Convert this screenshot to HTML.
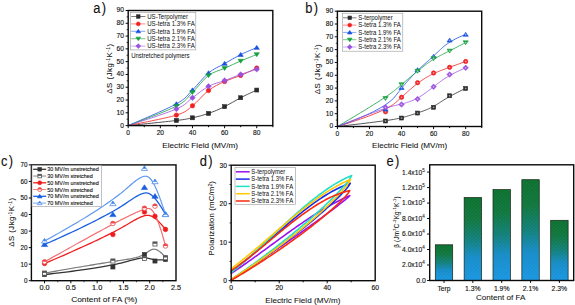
<!DOCTYPE html><html><head><meta charset="utf-8"><style>html,body{margin:0;padding:0;background:#fff;width:575px;height:305px;overflow:hidden}svg{display:block}text{font-family:"Liberation Sans", sans-serif}</style></head><body>
<svg width="575" height="305" viewBox="0 0 575 305">
<rect width="575" height="305" fill="#fff"/>
<text x="0" y="0" font-size="15" fill="#111" stroke="#111" stroke-width="0.12" transform="translate(93.3,12.8) scale(0.86,1)">a<tspan dx="1.6">)</tspan></text>
<line x1="125.6" y1="125.6" x2="128.2" y2="125.6" stroke="#0a0a0a" stroke-width="1.0"/>
<text x="124" y="127.5" font-size="7.6" text-anchor="end" fill="#111" stroke="#111" stroke-width="0.15" textLength="3.7" lengthAdjust="spacingAndGlyphs" >0</text>
<line x1="126.6" y1="119.21" x2="128.2" y2="119.21" stroke="#0a0a0a" stroke-width="0.8"/>
<line x1="125.6" y1="112.81" x2="128.2" y2="112.81" stroke="#0a0a0a" stroke-width="1.0"/>
<text x="124" y="114.71" font-size="7.6" text-anchor="end" fill="#111" stroke="#111" stroke-width="0.15" textLength="7.4" lengthAdjust="spacingAndGlyphs" >10</text>
<line x1="126.6" y1="106.42" x2="128.2" y2="106.42" stroke="#0a0a0a" stroke-width="0.8"/>
<line x1="125.6" y1="100.02" x2="128.2" y2="100.02" stroke="#0a0a0a" stroke-width="1.0"/>
<text x="124" y="101.92" font-size="7.6" text-anchor="end" fill="#111" stroke="#111" stroke-width="0.15" textLength="7.4" lengthAdjust="spacingAndGlyphs" >20</text>
<line x1="126.6" y1="93.63" x2="128.2" y2="93.63" stroke="#0a0a0a" stroke-width="0.8"/>
<line x1="125.6" y1="87.23" x2="128.2" y2="87.23" stroke="#0a0a0a" stroke-width="1.0"/>
<text x="124" y="89.13" font-size="7.6" text-anchor="end" fill="#111" stroke="#111" stroke-width="0.15" textLength="7.4" lengthAdjust="spacingAndGlyphs" >30</text>
<line x1="126.6" y1="80.84" x2="128.2" y2="80.84" stroke="#0a0a0a" stroke-width="0.8"/>
<line x1="125.6" y1="74.44" x2="128.2" y2="74.44" stroke="#0a0a0a" stroke-width="1.0"/>
<text x="124" y="76.34" font-size="7.6" text-anchor="end" fill="#111" stroke="#111" stroke-width="0.15" textLength="7.4" lengthAdjust="spacingAndGlyphs" >40</text>
<line x1="126.6" y1="68.05" x2="128.2" y2="68.05" stroke="#0a0a0a" stroke-width="0.8"/>
<line x1="125.6" y1="61.66" x2="128.2" y2="61.66" stroke="#0a0a0a" stroke-width="1.0"/>
<text x="124" y="63.56" font-size="7.6" text-anchor="end" fill="#111" stroke="#111" stroke-width="0.15" textLength="7.4" lengthAdjust="spacingAndGlyphs" >50</text>
<line x1="126.6" y1="55.26" x2="128.2" y2="55.26" stroke="#0a0a0a" stroke-width="0.8"/>
<line x1="125.6" y1="48.87" x2="128.2" y2="48.87" stroke="#0a0a0a" stroke-width="1.0"/>
<text x="124" y="50.77" font-size="7.6" text-anchor="end" fill="#111" stroke="#111" stroke-width="0.15" textLength="7.4" lengthAdjust="spacingAndGlyphs" >60</text>
<line x1="126.6" y1="42.47" x2="128.2" y2="42.47" stroke="#0a0a0a" stroke-width="0.8"/>
<line x1="125.6" y1="36.08" x2="128.2" y2="36.08" stroke="#0a0a0a" stroke-width="1.0"/>
<text x="124" y="37.98" font-size="7.6" text-anchor="end" fill="#111" stroke="#111" stroke-width="0.15" textLength="7.4" lengthAdjust="spacingAndGlyphs" >70</text>
<line x1="126.6" y1="29.68" x2="128.2" y2="29.68" stroke="#0a0a0a" stroke-width="0.8"/>
<line x1="125.6" y1="23.29" x2="128.2" y2="23.29" stroke="#0a0a0a" stroke-width="1.0"/>
<text x="124" y="25.19" font-size="7.6" text-anchor="end" fill="#111" stroke="#111" stroke-width="0.15" textLength="7.4" lengthAdjust="spacingAndGlyphs" >80</text>
<line x1="126.6" y1="16.89" x2="128.2" y2="16.89" stroke="#0a0a0a" stroke-width="0.8"/>
<line x1="125.6" y1="10.5" x2="128.2" y2="10.5" stroke="#0a0a0a" stroke-width="1.0"/>
<text x="124" y="12.4" font-size="7.6" text-anchor="end" fill="#111" stroke="#111" stroke-width="0.15" textLength="7.4" lengthAdjust="spacingAndGlyphs" >90</text>
<line x1="128.2" y1="125.6" x2="128.2" y2="128.2" stroke="#0a0a0a" stroke-width="1.0"/>
<text x="128.2" y="135.2" font-size="8" text-anchor="middle" fill="#111" stroke="#111" stroke-width="0.15" textLength="3.7" lengthAdjust="spacingAndGlyphs" >0</text>
<line x1="144.27" y1="125.6" x2="144.27" y2="127.2" stroke="#0a0a0a" stroke-width="1.0"/>
<line x1="160.33" y1="125.6" x2="160.33" y2="128.2" stroke="#0a0a0a" stroke-width="1.0"/>
<text x="160.33" y="135.2" font-size="8" text-anchor="middle" fill="#111" stroke="#111" stroke-width="0.15" textLength="7.4" lengthAdjust="spacingAndGlyphs" >20</text>
<line x1="176.4" y1="125.6" x2="176.4" y2="127.2" stroke="#0a0a0a" stroke-width="1.0"/>
<line x1="192.47" y1="125.6" x2="192.47" y2="128.2" stroke="#0a0a0a" stroke-width="1.0"/>
<text x="192.47" y="135.2" font-size="8" text-anchor="middle" fill="#111" stroke="#111" stroke-width="0.15" textLength="7.4" lengthAdjust="spacingAndGlyphs" >40</text>
<line x1="208.53" y1="125.6" x2="208.53" y2="127.2" stroke="#0a0a0a" stroke-width="1.0"/>
<line x1="224.6" y1="125.6" x2="224.6" y2="128.2" stroke="#0a0a0a" stroke-width="1.0"/>
<text x="224.6" y="135.2" font-size="8" text-anchor="middle" fill="#111" stroke="#111" stroke-width="0.15" textLength="7.4" lengthAdjust="spacingAndGlyphs" >60</text>
<line x1="240.67" y1="125.6" x2="240.67" y2="127.2" stroke="#0a0a0a" stroke-width="1.0"/>
<line x1="256.73" y1="125.6" x2="256.73" y2="128.2" stroke="#0a0a0a" stroke-width="1.0"/>
<text x="256.73" y="135.2" font-size="8" text-anchor="middle" fill="#111" stroke="#111" stroke-width="0.15" textLength="7.4" lengthAdjust="spacingAndGlyphs" >80</text>
<line x1="272.8" y1="125.6" x2="272.8" y2="127.2" stroke="#0a0a0a" stroke-width="1.0"/>
<path d="M128.2,125.6 C136.23,124.75 165.69,121.78 176.4,120.48 C187.11,119.18 187.11,118.97 192.47,117.8 C197.82,116.63 203.18,115.3 208.53,113.45 C213.89,111.6 219.24,109.29 224.6,106.67 C229.96,104.05 235.31,100.49 240.67,97.72 C246.02,94.95 254.06,91.33 256.73,90.05" fill="none" stroke="#2a2a2a" stroke-width="0.8"/>
<path d="M128.2,125.6 C136.23,123.85 165.69,118.42 176.4,115.11 C187.11,111.81 187.11,109.89 192.47,105.78 C197.82,101.66 203.18,94.48 208.53,90.43 C213.89,86.38 219.24,83.97 224.6,81.48 C229.96,78.98 235.31,77.71 240.67,75.47 C246.02,73.23 254.06,69.29 256.73,68.05" fill="none" stroke="#f02020" stroke-width="0.8"/>
<path d="M128.2,125.6 C136.23,121.98 165.69,109.78 176.4,103.86 C187.11,97.93 187.11,95.21 192.47,90.05 C197.82,84.89 203.18,77.32 208.53,72.91 C213.89,68.5 219.24,66.62 224.6,63.57 C229.96,60.53 235.31,57.29 240.67,54.62 C246.02,51.96 254.06,48.76 256.73,47.59" fill="none" stroke="#1a4fe0" stroke-width="0.8"/>
<path d="M128.2,125.6 C136.23,122.36 165.69,111.7 176.4,106.16 C187.11,100.62 187.11,97.46 192.47,92.35 C197.82,87.23 203.18,79.47 208.53,75.47 C213.89,71.46 219.24,70.71 224.6,68.31 C229.96,65.9 235.31,63.32 240.67,61.02 C246.02,58.71 254.06,55.58 256.73,54.49" fill="none" stroke="#15a040" stroke-width="0.8"/>
<path d="M128.2,125.6 C136.23,122.83 165.69,113.62 176.4,108.97 C187.11,104.33 187.11,101.49 192.47,97.72 C197.82,93.95 203.18,89.19 208.53,86.34 C213.89,83.48 219.24,82.57 224.6,80.58 C229.96,78.6 235.31,76.32 240.67,74.44 C246.02,72.57 254.06,70.18 256.73,69.33" fill="none" stroke="#9b50e0" stroke-width="0.8"/>
<rect x="174.42" y="118.5" width="3.96" height="3.96" fill="#2a2a2a" stroke="#2a2a2a" stroke-width="0.6"/>
<rect x="190.49" y="115.82" width="3.96" height="3.96" fill="#2a2a2a" stroke="#2a2a2a" stroke-width="0.6"/>
<rect x="206.55" y="111.47" width="3.96" height="3.96" fill="#2a2a2a" stroke="#2a2a2a" stroke-width="0.6"/>
<rect x="222.62" y="104.69" width="3.96" height="3.96" fill="#2a2a2a" stroke="#2a2a2a" stroke-width="0.6"/>
<rect x="238.69" y="95.74" width="3.96" height="3.96" fill="#2a2a2a" stroke="#2a2a2a" stroke-width="0.6"/>
<rect x="254.75" y="88.07" width="3.96" height="3.96" fill="#2a2a2a" stroke="#2a2a2a" stroke-width="0.6"/>
<circle cx="176.4" cy="115.11" r="2.2" fill="#f02020" stroke="#f02020" stroke-width="0.6"/>
<circle cx="192.47" cy="105.78" r="2.2" fill="#f02020" stroke="#f02020" stroke-width="0.6"/>
<circle cx="208.53" cy="90.43" r="2.2" fill="#f02020" stroke="#f02020" stroke-width="0.6"/>
<circle cx="224.6" cy="81.48" r="2.2" fill="#f02020" stroke="#f02020" stroke-width="0.6"/>
<circle cx="240.67" cy="75.47" r="2.2" fill="#f02020" stroke="#f02020" stroke-width="0.6"/>
<circle cx="256.73" cy="68.05" r="2.2" fill="#f02020" stroke="#f02020" stroke-width="0.6"/>
<path d="M176.4,101.66 L179.04,105.62 L173.76,105.62 Z" fill="#1a4fe0" stroke="#1a4fe0" stroke-width="0.6"/>
<path d="M192.47,87.85 L195.11,91.81 L189.83,91.81 Z" fill="#1a4fe0" stroke="#1a4fe0" stroke-width="0.6"/>
<path d="M208.53,70.71 L211.17,74.67 L205.89,74.67 Z" fill="#1a4fe0" stroke="#1a4fe0" stroke-width="0.6"/>
<path d="M224.6,61.37 L227.24,65.33 L221.96,65.33 Z" fill="#1a4fe0" stroke="#1a4fe0" stroke-width="0.6"/>
<path d="M240.67,52.42 L243.31,56.38 L238.03,56.38 Z" fill="#1a4fe0" stroke="#1a4fe0" stroke-width="0.6"/>
<path d="M256.73,45.39 L259.37,49.35 L254.09,49.35 Z" fill="#1a4fe0" stroke="#1a4fe0" stroke-width="0.6"/>
<path d="M176.4,108.36 L179.04,104.4 L173.76,104.4 Z" fill="#15a040" stroke="#15a040" stroke-width="0.6"/>
<path d="M192.47,94.55 L195.11,90.59 L189.83,90.59 Z" fill="#15a040" stroke="#15a040" stroke-width="0.6"/>
<path d="M208.53,77.67 L211.17,73.71 L205.89,73.71 Z" fill="#15a040" stroke="#15a040" stroke-width="0.6"/>
<path d="M224.6,70.51 L227.24,66.55 L221.96,66.55 Z" fill="#15a040" stroke="#15a040" stroke-width="0.6"/>
<path d="M240.67,63.22 L243.31,59.26 L238.03,59.26 Z" fill="#15a040" stroke="#15a040" stroke-width="0.6"/>
<path d="M256.73,56.69 L259.37,52.73 L254.09,52.73 Z" fill="#15a040" stroke="#15a040" stroke-width="0.6"/>
<path d="M176.4,106.25 L179.13,108.97 L176.4,111.7 L173.67,108.97 Z" fill="#9b50e0" stroke="#9b50e0" stroke-width="0.6"/>
<path d="M192.47,94.99 L195.19,97.72 L192.47,100.45 L189.74,97.72 Z" fill="#9b50e0" stroke="#9b50e0" stroke-width="0.6"/>
<path d="M208.53,83.61 L211.26,86.34 L208.53,89.07 L205.81,86.34 Z" fill="#9b50e0" stroke="#9b50e0" stroke-width="0.6"/>
<path d="M224.6,77.86 L227.33,80.58 L224.6,83.31 L221.87,80.58 Z" fill="#9b50e0" stroke="#9b50e0" stroke-width="0.6"/>
<path d="M240.67,71.72 L243.39,74.44 L240.67,77.17 L237.94,74.44 Z" fill="#9b50e0" stroke="#9b50e0" stroke-width="0.6"/>
<path d="M256.73,66.6 L259.46,69.33 L256.73,72.06 L254.01,69.33 Z" fill="#9b50e0" stroke="#9b50e0" stroke-width="0.6"/>
<rect x="128.2" y="10.5" width="144.6" height="115.1" fill="none" stroke="#0a0a0a" stroke-width="1.4"/>
<rect x="130.6" y="12.6" width="65.2" height="37.3" fill="#fff" stroke="#999" stroke-width="0.6"/>
<line x1="131.2" y1="16.5" x2="145.4" y2="16.5" stroke="#444" stroke-width="0.7"/>
<rect x="136.54" y="14.75" width="3.51" height="3.51" fill="#2a2a2a" stroke="#2a2a2a" stroke-width="0.6"/>
<text x="147.2" y="18.85" font-size="6.7" text-anchor="start" fill="#111" stroke="#111" stroke-width="0.03" textLength="40.79" lengthAdjust="spacingAndGlyphs" >US-Terpolymer</text>
<line x1="131.2" y1="23.9" x2="145.4" y2="23.9" stroke="#f55" stroke-width="0.7"/>
<circle cx="138.3" cy="23.9" r="1.95" fill="#f02020" stroke="#f02020" stroke-width="0.6"/>
<text x="147.2" y="26.25" font-size="6.7" text-anchor="start" fill="#111" stroke="#111" stroke-width="0.03" textLength="47.6" lengthAdjust="spacingAndGlyphs" >US-tetra 1.3% FA</text>
<line x1="131.2" y1="31.3" x2="145.4" y2="31.3" stroke="#4a80f0" stroke-width="0.7"/>
<path d="M138.3,29.35 L140.64,32.86 L135.96,32.86 Z" fill="#1a4fe0" stroke="#1a4fe0" stroke-width="0.6"/>
<text x="147.2" y="33.65" font-size="6.7" text-anchor="start" fill="#111" stroke="#111" stroke-width="0.03" textLength="47.6" lengthAdjust="spacingAndGlyphs" >US-tetra 1.9% FA</text>
<line x1="131.2" y1="38.7" x2="145.4" y2="38.7" stroke="#40b060" stroke-width="0.7"/>
<path d="M138.3,40.65 L140.64,37.14 L135.96,37.14 Z" fill="#15a040" stroke="#15a040" stroke-width="0.6"/>
<text x="147.2" y="41.05" font-size="6.7" text-anchor="start" fill="#111" stroke="#111" stroke-width="0.03" textLength="47.6" lengthAdjust="spacingAndGlyphs" >US-tetra 2.1% FA</text>
<line x1="131.2" y1="46.1" x2="145.4" y2="46.1" stroke="#b080f0" stroke-width="0.7"/>
<path d="M138.3,43.68 L140.72,46.1 L138.3,48.52 L135.88,46.1 Z" fill="#9b50e0" stroke="#9b50e0" stroke-width="0.6"/>
<text x="147.2" y="48.45" font-size="6.7" text-anchor="start" fill="#111" stroke="#111" stroke-width="0.03" textLength="47.6" lengthAdjust="spacingAndGlyphs" >US-tetra 2.3% FA</text>
<text x="131.2" y="57.9" font-size="6.6" text-anchor="start" fill="#111" stroke="#111" stroke-width="0.03" textLength="58.3" lengthAdjust="spacingAndGlyphs" >Unstretched polymers</text>
<text x="162.3" y="148.3" font-size="8.1" text-anchor="start" fill="#111" stroke="#111" stroke-width="0.07" textLength="75.8" lengthAdjust="spacingAndGlyphs" >Electric Field (MV/m)</text>
<text x="0" y="0" font-size="7.8" text-anchor="middle" fill="#111" stroke="#111" stroke-width="0.07" letter-spacing="0.55" transform="translate(112,68.5) rotate(-90)">ΔS (Jkg<tspan font-size="4.6" dy="-2.4">-1</tspan><tspan dy="2.4">K</tspan><tspan font-size="4.6" dy="-2.4">-1</tspan><tspan dy="2.4">)</tspan></text>
<text x="0" y="0" font-size="15" fill="#111" stroke="#111" stroke-width="0.12" transform="translate(305.3,13) scale(0.86,1)">b<tspan dx="1.6">)</tspan></text>
<line x1="334.8" y1="126.5" x2="337.4" y2="126.5" stroke="#0a0a0a" stroke-width="1.0"/>
<text x="333.2" y="128.4" font-size="7.6" text-anchor="end" fill="#111" stroke="#111" stroke-width="0.15" textLength="3.7" lengthAdjust="spacingAndGlyphs" >0</text>
<line x1="335.8" y1="120.09" x2="337.4" y2="120.09" stroke="#0a0a0a" stroke-width="0.8"/>
<line x1="334.8" y1="113.69" x2="337.4" y2="113.69" stroke="#0a0a0a" stroke-width="1.0"/>
<text x="333.2" y="115.59" font-size="7.6" text-anchor="end" fill="#111" stroke="#111" stroke-width="0.15" textLength="7.4" lengthAdjust="spacingAndGlyphs" >10</text>
<line x1="335.8" y1="107.28" x2="337.4" y2="107.28" stroke="#0a0a0a" stroke-width="0.8"/>
<line x1="334.8" y1="100.88" x2="337.4" y2="100.88" stroke="#0a0a0a" stroke-width="1.0"/>
<text x="333.2" y="102.78" font-size="7.6" text-anchor="end" fill="#111" stroke="#111" stroke-width="0.15" textLength="7.4" lengthAdjust="spacingAndGlyphs" >20</text>
<line x1="335.8" y1="94.47" x2="337.4" y2="94.47" stroke="#0a0a0a" stroke-width="0.8"/>
<line x1="334.8" y1="88.07" x2="337.4" y2="88.07" stroke="#0a0a0a" stroke-width="1.0"/>
<text x="333.2" y="89.97" font-size="7.6" text-anchor="end" fill="#111" stroke="#111" stroke-width="0.15" textLength="7.4" lengthAdjust="spacingAndGlyphs" >30</text>
<line x1="335.8" y1="81.66" x2="337.4" y2="81.66" stroke="#0a0a0a" stroke-width="0.8"/>
<line x1="334.8" y1="75.26" x2="337.4" y2="75.26" stroke="#0a0a0a" stroke-width="1.0"/>
<text x="333.2" y="77.16" font-size="7.6" text-anchor="end" fill="#111" stroke="#111" stroke-width="0.15" textLength="7.4" lengthAdjust="spacingAndGlyphs" >40</text>
<line x1="335.8" y1="68.85" x2="337.4" y2="68.85" stroke="#0a0a0a" stroke-width="0.8"/>
<line x1="334.8" y1="62.44" x2="337.4" y2="62.44" stroke="#0a0a0a" stroke-width="1.0"/>
<text x="333.2" y="64.34" font-size="7.6" text-anchor="end" fill="#111" stroke="#111" stroke-width="0.15" textLength="7.4" lengthAdjust="spacingAndGlyphs" >50</text>
<line x1="335.8" y1="56.04" x2="337.4" y2="56.04" stroke="#0a0a0a" stroke-width="0.8"/>
<line x1="334.8" y1="49.63" x2="337.4" y2="49.63" stroke="#0a0a0a" stroke-width="1.0"/>
<text x="333.2" y="51.53" font-size="7.6" text-anchor="end" fill="#111" stroke="#111" stroke-width="0.15" textLength="7.4" lengthAdjust="spacingAndGlyphs" >60</text>
<line x1="335.8" y1="43.23" x2="337.4" y2="43.23" stroke="#0a0a0a" stroke-width="0.8"/>
<line x1="334.8" y1="36.82" x2="337.4" y2="36.82" stroke="#0a0a0a" stroke-width="1.0"/>
<text x="333.2" y="38.72" font-size="7.6" text-anchor="end" fill="#111" stroke="#111" stroke-width="0.15" textLength="7.4" lengthAdjust="spacingAndGlyphs" >70</text>
<line x1="335.8" y1="30.42" x2="337.4" y2="30.42" stroke="#0a0a0a" stroke-width="0.8"/>
<line x1="334.8" y1="24.01" x2="337.4" y2="24.01" stroke="#0a0a0a" stroke-width="1.0"/>
<text x="333.2" y="25.91" font-size="7.6" text-anchor="end" fill="#111" stroke="#111" stroke-width="0.15" textLength="7.4" lengthAdjust="spacingAndGlyphs" >80</text>
<line x1="335.8" y1="17.61" x2="337.4" y2="17.61" stroke="#0a0a0a" stroke-width="0.8"/>
<line x1="334.8" y1="11.2" x2="337.4" y2="11.2" stroke="#0a0a0a" stroke-width="1.0"/>
<text x="333.2" y="13.1" font-size="7.6" text-anchor="end" fill="#111" stroke="#111" stroke-width="0.15" textLength="7.4" lengthAdjust="spacingAndGlyphs" >90</text>
<line x1="337.4" y1="126.5" x2="337.4" y2="129.1" stroke="#0a0a0a" stroke-width="1.0"/>
<text x="337.4" y="136.1" font-size="8" text-anchor="middle" fill="#111" stroke="#111" stroke-width="0.15" textLength="3.7" lengthAdjust="spacingAndGlyphs" >0</text>
<line x1="353.43" y1="126.5" x2="353.43" y2="128.1" stroke="#0a0a0a" stroke-width="1.0"/>
<line x1="369.47" y1="126.5" x2="369.47" y2="129.1" stroke="#0a0a0a" stroke-width="1.0"/>
<text x="369.47" y="136.1" font-size="8" text-anchor="middle" fill="#111" stroke="#111" stroke-width="0.15" textLength="7.4" lengthAdjust="spacingAndGlyphs" >20</text>
<line x1="385.5" y1="126.5" x2="385.5" y2="128.1" stroke="#0a0a0a" stroke-width="1.0"/>
<line x1="401.53" y1="126.5" x2="401.53" y2="129.1" stroke="#0a0a0a" stroke-width="1.0"/>
<text x="401.53" y="136.1" font-size="8" text-anchor="middle" fill="#111" stroke="#111" stroke-width="0.15" textLength="7.4" lengthAdjust="spacingAndGlyphs" >40</text>
<line x1="417.57" y1="126.5" x2="417.57" y2="128.1" stroke="#0a0a0a" stroke-width="1.0"/>
<line x1="433.6" y1="126.5" x2="433.6" y2="129.1" stroke="#0a0a0a" stroke-width="1.0"/>
<text x="433.6" y="136.1" font-size="8" text-anchor="middle" fill="#111" stroke="#111" stroke-width="0.15" textLength="7.4" lengthAdjust="spacingAndGlyphs" >60</text>
<line x1="449.63" y1="126.5" x2="449.63" y2="128.1" stroke="#0a0a0a" stroke-width="1.0"/>
<line x1="465.67" y1="126.5" x2="465.67" y2="129.1" stroke="#0a0a0a" stroke-width="1.0"/>
<text x="465.67" y="136.1" font-size="8" text-anchor="middle" fill="#111" stroke="#111" stroke-width="0.15" textLength="7.4" lengthAdjust="spacingAndGlyphs" >80</text>
<line x1="481.7" y1="126.5" x2="481.7" y2="128.1" stroke="#0a0a0a" stroke-width="1.0"/>
<path d="M337.4,126.5 L343.79,125.77 L349.74,125.07 L355.25,124.43 L360.35,123.83 L365.06,123.25 L369.38,122.73 L373.33,122.23 L376.92,121.78 L380.17,121.36 L383.1,120.97 L385.71,120.61 L388.03,120.28 L390.06,119.97 L391.83,119.7 L393.35,119.44 L394.62,119.22 L395.75,119 L396.81,118.78 L397.85,118.56 L398.86,118.34 L399.86,118.1 L400.85,117.87 L401.82,117.63 L402.79,117.4 L403.76,117.15 L404.72,116.9 L405.66,116.64 L406.6,116.38 L407.53,116.11 L408.47,115.84 L409.39,115.56 L410.31,115.28 L411.23,115 L412.13,114.71 L413.05,114.42 L413.96,114.12 L414.86,113.84 L415.76,113.53 L416.66,113.24 L417.57,112.94 L418.47,112.63 L419.37,112.32 L420.27,112.02 L421.18,111.69 L422.09,111.38 L423,111.05 L423.91,110.72 L424.82,110.38 L425.75,110.03 L426.67,109.66 L427.6,109.27 L428.53,108.86 L429.48,108.42 L430.43,107.97 L431.38,107.5 L432.34,107 L433.31,106.49 L434.29,105.95 L435.27,105.38 L436.27,104.79 L437.28,104.17 L438.3,103.53 L439.34,102.87 L440.39,102.17 L441.48,101.46 L442.62,100.72 L443.81,99.97 L445.07,99.19 L446.39,98.41 L447.77,97.59 L449.23,96.76 L450.75,95.91 L452.33,95.05 L454,94.16 L455.74,93.25 L457.55,92.33 L459.46,91.38 L461.43,90.42 L463.5,89.44 L465.67,88.45" fill="none" stroke="#2a2a2a" stroke-width="0.8"/>
<path d="M337.4,126.5 L343.79,124.52 L349.74,122.62 L355.25,120.79 L360.35,119.06 L365.06,117.39 L369.38,115.8 L373.33,114.28 L376.92,112.83 L380.17,111.44 L383.1,110.12 L385.71,108.86 L388.03,107.66 L390.06,106.53 L391.83,105.44 L393.35,104.4 L394.62,103.41 L395.75,102.46 L396.81,101.53 L397.85,100.6 L398.86,99.69 L399.86,98.79 L400.85,97.89 L401.82,97 L402.79,96.12 L403.76,95.26 L404.72,94.4 L405.66,93.55 L406.6,92.7 L407.53,91.85 L408.47,91.03 L409.39,90.2 L410.31,89.38 L411.23,88.58 L412.13,87.79 L413.05,87.02 L413.96,86.26 L414.86,85.52 L415.76,84.79 L416.66,84.09 L417.57,83.4 L418.47,82.72 L419.37,82.06 L420.27,81.41 L421.18,80.78 L422.09,80.16 L423,79.56 L423.91,78.97 L424.82,78.4 L425.75,77.84 L426.67,77.29 L427.6,76.75 L428.53,76.22 L429.48,75.72 L430.43,75.21 L431.38,74.72 L432.34,74.23 L433.31,73.77 L434.29,73.31 L435.27,72.86 L436.27,72.41 L437.28,71.98 L438.3,71.56 L439.34,71.14 L440.39,70.73 L441.48,70.32 L442.62,69.89 L443.81,69.44 L445.07,68.97 L446.39,68.48 L447.77,67.97 L449.23,67.44 L450.75,66.89 L452.33,66.31 L454,65.69 L455.74,65.06 L457.55,64.39 L459.46,63.7 L461.43,62.97 L463.5,62.21 L465.67,61.42" fill="none" stroke="#f02020" stroke-width="0.8"/>
<path d="M337.4,126.5 L343.79,124.17 L349.74,121.93 L355.25,119.74 L360.35,117.62 L365.06,115.57 L369.38,113.59 L373.33,111.66 L376.92,109.81 L380.17,108 L383.1,106.27 L385.71,104.59 L388.03,102.97 L390.06,101.39 L391.83,99.87 L393.35,98.41 L394.62,97 L395.75,95.62 L396.81,94.28 L397.85,92.96 L398.86,91.67 L399.86,90.41 L400.85,89.17 L401.82,87.96 L402.79,86.77 L403.76,85.6 L404.72,84.47 L405.66,83.34 L406.6,82.24 L407.53,81.16 L408.47,80.1 L409.39,79.06 L410.31,78.05 L411.23,77.04 L412.13,76.06 L413.05,75.09 L413.96,74.14 L414.86,73.22 L415.76,72.3 L416.66,71.4 L417.57,70.51 L418.47,69.63 L419.37,68.78 L420.27,67.94 L421.18,67.09 L422.09,66.27 L423,65.45 L423.91,64.65 L424.82,63.84 L425.75,63.04 L426.67,62.23 L427.6,61.41 L428.53,60.58 L429.48,59.74 L430.43,58.89 L431.38,58.02 L432.34,57.15 L433.31,56.25 L434.29,55.34 L435.27,54.42 L436.27,53.47 L437.28,52.5 L438.3,51.53 L439.34,50.53 L440.39,49.52 L441.48,48.5 L442.62,47.49 L443.81,46.48 L445.07,45.48 L446.39,44.48 L447.77,43.5 L449.23,42.53 L450.75,41.57 L452.33,40.62 L454,39.69 L455.74,38.78 L457.55,37.88 L459.46,37 L461.43,36.15 L463.5,35.33 L465.67,34.52" fill="none" stroke="#1a4fe0" stroke-width="0.8"/>
<path d="M337.4,126.5 L343.79,122.75 L349.74,119.22 L355.25,115.93 L360.35,112.86 L365.06,110 L369.38,107.34 L373.33,104.88 L376.92,102.61 L380.17,100.53 L383.1,98.62 L385.71,96.88 L388.03,95.3 L390.06,93.86 L391.83,92.58 L393.35,91.43 L394.62,90.41 L395.75,89.47 L396.81,88.56 L397.85,87.69 L398.86,86.83 L399.86,85.97 L400.85,85.13 L401.82,84.29 L402.79,83.47 L403.76,82.66 L404.72,81.85 L405.66,81.05 L406.6,80.25 L407.53,79.46 L408.47,78.68 L409.39,77.91 L410.31,77.13 L411.23,76.37 L412.13,75.62 L413.05,74.86 L413.96,74.11 L414.86,73.37 L415.76,72.62 L416.66,71.89 L417.57,71.16 L418.47,70.43 L419.37,69.7 L420.27,68.98 L421.18,68.26 L422.09,67.54 L423,66.82 L423.91,66.11 L424.82,65.4 L425.75,64.7 L426.67,64 L427.6,63.33 L428.53,62.66 L429.48,62 L430.43,61.35 L431.38,60.72 L432.34,60.09 L433.31,59.48 L434.29,58.88 L435.27,58.28 L436.27,57.71 L437.28,57.14 L438.3,56.58 L439.34,56.03 L440.39,55.48 L441.48,54.92 L442.62,54.35 L443.81,53.74 L445.07,53.11 L446.39,52.44 L447.77,51.74 L449.23,51.01 L450.75,50.24 L452.33,49.43 L454,48.58 L455.74,47.7 L457.55,46.77 L459.46,45.8 L461.43,44.78 L463.5,43.7 L465.67,42.59" fill="none" stroke="#15a040" stroke-width="0.8"/>
<path d="M337.4,126.5 L343.79,123.96 L349.74,121.61 L355.25,119.45 L360.35,117.48 L365.06,115.69 L369.38,114.06 L373.33,112.59 L376.92,111.29 L380.17,110.13 L383.1,109.11 L385.71,108.22 L388.03,107.47 L390.06,106.84 L391.83,106.33 L393.35,105.92 L394.62,105.61 L395.75,105.37 L396.81,105.13 L397.85,104.91 L398.86,104.68 L399.86,104.45 L400.85,104.22 L401.82,103.97 L402.79,103.71 L403.76,103.45 L404.72,103.18 L405.66,102.91 L406.6,102.62 L407.53,102.32 L408.47,102.02 L409.39,101.7 L410.31,101.38 L411.23,101.03 L412.13,100.67 L413.05,100.29 L413.96,99.89 L414.86,99.47 L415.76,99.03 L416.66,98.56 L417.57,98.08 L418.47,97.56 L419.37,97.03 L420.27,96.48 L421.18,95.91 L422.09,95.31 L423,94.69 L423.91,94.06 L424.82,93.39 L425.75,92.72 L426.67,92.03 L427.6,91.34 L428.53,90.63 L429.48,89.93 L430.43,89.2 L431.38,88.48 L432.34,87.75 L433.31,87.01 L434.29,86.26 L435.27,85.5 L436.27,84.73 L437.28,83.96 L438.3,83.18 L439.34,82.4 L440.39,81.6 L441.48,80.8 L442.62,79.99 L443.81,79.17 L445.07,78.34 L446.39,77.5 L447.77,76.66 L449.23,75.81 L450.75,74.95 L452.33,74.09 L454,73.21 L455.74,72.33 L457.55,71.44 L459.46,70.55 L461.43,69.65 L463.5,68.74 L465.67,67.83" fill="none" stroke="#9b50e0" stroke-width="0.8"/>
<rect x="383.52" y="119.01" width="3.96" height="3.96" fill="#2a2a2a" stroke="#2a2a2a" stroke-width="0.6"/>
<circle cx="385.5" cy="120.99" r="0.9" fill="#fff" fill-opacity="0.55"/>
<rect x="399.55" y="116.06" width="3.96" height="3.96" fill="#2a2a2a" stroke="#2a2a2a" stroke-width="0.6"/>
<circle cx="401.53" cy="118.04" r="0.9" fill="#fff" fill-opacity="0.55"/>
<rect x="415.59" y="111.07" width="3.96" height="3.96" fill="#2a2a2a" stroke="#2a2a2a" stroke-width="0.6"/>
<circle cx="417.57" cy="113.05" r="0.9" fill="#fff" fill-opacity="0.55"/>
<rect x="431.62" y="105.3" width="3.96" height="3.96" fill="#2a2a2a" stroke="#2a2a2a" stroke-width="0.6"/>
<circle cx="433.6" cy="107.28" r="0.9" fill="#fff" fill-opacity="0.55"/>
<rect x="447.65" y="93.77" width="3.96" height="3.96" fill="#2a2a2a" stroke="#2a2a2a" stroke-width="0.6"/>
<circle cx="449.63" cy="95.75" r="0.9" fill="#fff" fill-opacity="0.55"/>
<rect x="463.69" y="86.47" width="3.96" height="3.96" fill="#2a2a2a" stroke="#2a2a2a" stroke-width="0.6"/>
<circle cx="465.67" cy="88.45" r="0.9" fill="#fff" fill-opacity="0.55"/>
<circle cx="385.5" cy="111.77" r="2.2" fill="#f02020" stroke="#f02020" stroke-width="0.6"/>
<circle cx="385.5" cy="111.77" r="0.9" fill="#fff" fill-opacity="0.55"/>
<circle cx="401.53" cy="97.29" r="2.2" fill="#f02020" stroke="#f02020" stroke-width="0.6"/>
<circle cx="401.53" cy="97.29" r="0.9" fill="#fff" fill-opacity="0.55"/>
<circle cx="417.57" cy="82.69" r="2.2" fill="#f02020" stroke="#f02020" stroke-width="0.6"/>
<circle cx="417.57" cy="82.69" r="0.9" fill="#fff" fill-opacity="0.55"/>
<circle cx="433.6" cy="72.95" r="2.2" fill="#f02020" stroke="#f02020" stroke-width="0.6"/>
<circle cx="433.6" cy="72.95" r="0.9" fill="#fff" fill-opacity="0.55"/>
<circle cx="449.63" cy="67.31" r="2.2" fill="#f02020" stroke="#f02020" stroke-width="0.6"/>
<circle cx="449.63" cy="67.31" r="0.9" fill="#fff" fill-opacity="0.55"/>
<circle cx="465.67" cy="61.42" r="2.2" fill="#f02020" stroke="#f02020" stroke-width="0.6"/>
<circle cx="465.67" cy="61.42" r="0.9" fill="#fff" fill-opacity="0.55"/>
<path d="M385.5,107.13 L388.14,111.09 L382.86,111.09 Z" fill="#1a4fe0" stroke="#1a4fe0" stroke-width="0.6"/>
<circle cx="385.5" cy="109.33" r="0.9" fill="#fff" fill-opacity="0.55"/>
<path d="M401.53,85.48 L404.17,89.44 L398.89,89.44 Z" fill="#1a4fe0" stroke="#1a4fe0" stroke-width="0.6"/>
<circle cx="401.53" cy="87.68" r="0.9" fill="#fff" fill-opacity="0.55"/>
<path d="M417.57,67.67 L420.21,71.63 L414.93,71.63 Z" fill="#1a4fe0" stroke="#1a4fe0" stroke-width="0.6"/>
<circle cx="417.57" cy="69.87" r="0.9" fill="#fff" fill-opacity="0.55"/>
<path d="M433.6,54.22 L436.24,58.18 L430.96,58.18 Z" fill="#1a4fe0" stroke="#1a4fe0" stroke-width="0.6"/>
<circle cx="433.6" cy="56.42" r="0.9" fill="#fff" fill-opacity="0.55"/>
<path d="M449.63,38.08 L452.27,42.04 L446.99,42.04 Z" fill="#1a4fe0" stroke="#1a4fe0" stroke-width="0.6"/>
<circle cx="449.63" cy="40.28" r="0.9" fill="#fff" fill-opacity="0.55"/>
<path d="M465.67,32.32 L468.31,36.28 L463.03,36.28 Z" fill="#1a4fe0" stroke="#1a4fe0" stroke-width="0.6"/>
<circle cx="465.67" cy="34.52" r="0.9" fill="#fff" fill-opacity="0.55"/>
<path d="M385.5,100.52 L388.14,96.56 L382.86,96.56 Z" fill="#15a040" stroke="#15a040" stroke-width="0.6"/>
<circle cx="385.5" cy="98.32" r="0.9" fill="#fff" fill-opacity="0.55"/>
<path d="M401.53,86.68 L404.17,82.72 L398.89,82.72 Z" fill="#15a040" stroke="#15a040" stroke-width="0.6"/>
<circle cx="401.53" cy="84.48" r="0.9" fill="#fff" fill-opacity="0.55"/>
<path d="M417.57,73.23 L420.21,69.27 L414.93,69.27 Z" fill="#15a040" stroke="#15a040" stroke-width="0.6"/>
<circle cx="417.57" cy="71.03" r="0.9" fill="#fff" fill-opacity="0.55"/>
<path d="M433.6,60.67 L436.24,56.71 L430.96,56.71 Z" fill="#15a040" stroke="#15a040" stroke-width="0.6"/>
<circle cx="433.6" cy="58.47" r="0.9" fill="#fff" fill-opacity="0.55"/>
<path d="M449.63,53.11 L452.27,49.15 L446.99,49.15 Z" fill="#15a040" stroke="#15a040" stroke-width="0.6"/>
<circle cx="449.63" cy="50.91" r="0.9" fill="#fff" fill-opacity="0.55"/>
<path d="M465.67,44.79 L468.31,40.83 L463.03,40.83 Z" fill="#15a040" stroke="#15a040" stroke-width="0.6"/>
<circle cx="465.67" cy="42.59" r="0.9" fill="#fff" fill-opacity="0.55"/>
<path d="M385.5,104.56 L388.23,107.28 L385.5,110.01 L382.77,107.28 Z" fill="#9b50e0" stroke="#9b50e0" stroke-width="0.6"/>
<circle cx="385.5" cy="107.28" r="0.9" fill="#fff" fill-opacity="0.55"/>
<path d="M401.53,101.74 L404.26,104.46 L401.53,107.19 L398.81,104.46 Z" fill="#9b50e0" stroke="#9b50e0" stroke-width="0.6"/>
<circle cx="401.53" cy="104.46" r="0.9" fill="#fff" fill-opacity="0.55"/>
<path d="M417.57,96.36 L420.29,99.08 L417.57,101.81 L414.84,99.08 Z" fill="#9b50e0" stroke="#9b50e0" stroke-width="0.6"/>
<circle cx="417.57" cy="99.08" r="0.9" fill="#fff" fill-opacity="0.55"/>
<path d="M433.6,84.06 L436.33,86.79 L433.6,89.51 L430.87,86.79 Z" fill="#9b50e0" stroke="#9b50e0" stroke-width="0.6"/>
<circle cx="433.6" cy="86.79" r="0.9" fill="#fff" fill-opacity="0.55"/>
<path d="M449.63,71.76 L452.36,74.49 L449.63,77.21 L446.91,74.49 Z" fill="#9b50e0" stroke="#9b50e0" stroke-width="0.6"/>
<circle cx="449.63" cy="74.49" r="0.9" fill="#fff" fill-opacity="0.55"/>
<path d="M465.67,65.1 L468.39,67.83 L465.67,70.55 L462.94,67.83 Z" fill="#9b50e0" stroke="#9b50e0" stroke-width="0.6"/>
<circle cx="465.67" cy="67.83" r="0.9" fill="#fff" fill-opacity="0.55"/>
<rect x="337.4" y="11.2" width="144.3" height="115.3" fill="none" stroke="#0a0a0a" stroke-width="1.4"/>
<rect x="342.5" y="13.2" width="60.3" height="38" fill="#fff" stroke="#999" stroke-width="0.6"/>
<line x1="343.1" y1="17.8" x2="356.4" y2="17.8" stroke="#444" stroke-width="0.7"/>
<rect x="348" y="16.05" width="3.51" height="3.51" fill="#2a2a2a" stroke="#2a2a2a" stroke-width="0.6"/>
<text x="358.2" y="20.15" font-size="6.7" text-anchor="start" fill="#111" stroke="#111" stroke-width="0.03" textLength="34.54" lengthAdjust="spacingAndGlyphs" >S-terpolymer</text>
<line x1="343.1" y1="25.1" x2="356.4" y2="25.1" stroke="#f55" stroke-width="0.7"/>
<circle cx="349.75" cy="25.1" r="1.95" fill="#f02020" stroke="#f02020" stroke-width="0.6"/>
<text x="358.2" y="27.45" font-size="6.7" text-anchor="start" fill="#111" stroke="#111" stroke-width="0.03" textLength="42.6" lengthAdjust="spacingAndGlyphs" >S-tetra 1.3% FA</text>
<line x1="343.1" y1="32.4" x2="356.4" y2="32.4" stroke="#4a80f0" stroke-width="0.7"/>
<path d="M349.75,30.45 L352.09,33.96 L347.41,33.96 Z" fill="#1a4fe0" stroke="#1a4fe0" stroke-width="0.6"/>
<text x="358.2" y="34.75" font-size="6.7" text-anchor="start" fill="#111" stroke="#111" stroke-width="0.03" textLength="42.6" lengthAdjust="spacingAndGlyphs" >S-tetra 1.9% FA</text>
<line x1="343.1" y1="39.7" x2="356.4" y2="39.7" stroke="#40b060" stroke-width="0.7"/>
<path d="M349.75,41.65 L352.09,38.14 L347.41,38.14 Z" fill="#15a040" stroke="#15a040" stroke-width="0.6"/>
<text x="358.2" y="42.05" font-size="6.7" text-anchor="start" fill="#111" stroke="#111" stroke-width="0.03" textLength="42.6" lengthAdjust="spacingAndGlyphs" >S-tetra 2.1% FA</text>
<line x1="343.1" y1="47" x2="356.4" y2="47" stroke="#b080f0" stroke-width="0.7"/>
<path d="M349.75,44.58 L352.17,47 L349.75,49.42 L347.33,47 Z" fill="#9b50e0" stroke="#9b50e0" stroke-width="0.6"/>
<text x="358.2" y="49.35" font-size="6.7" text-anchor="start" fill="#111" stroke="#111" stroke-width="0.03" textLength="42.6" lengthAdjust="spacingAndGlyphs" >S-tetra 2.3% FA</text>
<text x="372" y="147.8" font-size="8.1" text-anchor="start" fill="#111" stroke="#111" stroke-width="0.07" textLength="75.2" lengthAdjust="spacingAndGlyphs" >Electric Field (MV/m)</text>
<text x="0" y="0" font-size="7.8" text-anchor="middle" fill="#111" stroke="#111" stroke-width="0.07" letter-spacing="0.55" transform="translate(320,69) rotate(-90)">ΔS (Jkg<tspan font-size="4.6" dy="-2.4">-1</tspan><tspan dy="2.4">K</tspan><tspan font-size="4.6" dy="-2.4">-1</tspan><tspan dy="2.4">)</tspan></text>
<text x="0" y="0" font-size="15" fill="#111" stroke="#111" stroke-width="0.12" transform="translate(1,165.6) scale(0.86,1)">c<tspan dx="1.6">)</tspan></text>
<line x1="28.8" y1="280.7" x2="31.4" y2="280.7" stroke="#0a0a0a" stroke-width="1.0"/>
<text x="27.6" y="283.2" font-size="7.4" text-anchor="end" fill="#111" stroke="#111" stroke-width="0.15" textLength="3.5" lengthAdjust="spacingAndGlyphs" >0</text>
<line x1="28.8" y1="264.16" x2="31.4" y2="264.16" stroke="#0a0a0a" stroke-width="1.0"/>
<text x="27.6" y="266.66" font-size="7.4" text-anchor="end" fill="#111" stroke="#111" stroke-width="0.15" textLength="7" lengthAdjust="spacingAndGlyphs" >10</text>
<line x1="28.8" y1="247.61" x2="31.4" y2="247.61" stroke="#0a0a0a" stroke-width="1.0"/>
<text x="27.6" y="250.11" font-size="7.4" text-anchor="end" fill="#111" stroke="#111" stroke-width="0.15" textLength="7" lengthAdjust="spacingAndGlyphs" >20</text>
<line x1="28.8" y1="231.07" x2="31.4" y2="231.07" stroke="#0a0a0a" stroke-width="1.0"/>
<text x="27.6" y="233.57" font-size="7.4" text-anchor="end" fill="#111" stroke="#111" stroke-width="0.15" textLength="7" lengthAdjust="spacingAndGlyphs" >30</text>
<line x1="28.8" y1="214.53" x2="31.4" y2="214.53" stroke="#0a0a0a" stroke-width="1.0"/>
<text x="27.6" y="217.03" font-size="7.4" text-anchor="end" fill="#111" stroke="#111" stroke-width="0.15" textLength="7" lengthAdjust="spacingAndGlyphs" >40</text>
<line x1="28.8" y1="197.99" x2="31.4" y2="197.99" stroke="#0a0a0a" stroke-width="1.0"/>
<text x="27.6" y="200.49" font-size="7.4" text-anchor="end" fill="#111" stroke="#111" stroke-width="0.15" textLength="7" lengthAdjust="spacingAndGlyphs" >50</text>
<line x1="28.8" y1="181.44" x2="31.4" y2="181.44" stroke="#0a0a0a" stroke-width="1.0"/>
<text x="27.6" y="183.94" font-size="7.4" text-anchor="end" fill="#111" stroke="#111" stroke-width="0.15" textLength="7" lengthAdjust="spacingAndGlyphs" >60</text>
<line x1="28.8" y1="164.9" x2="31.4" y2="164.9" stroke="#0a0a0a" stroke-width="1.0"/>
<text x="27.6" y="167.4" font-size="7.4" text-anchor="end" fill="#111" stroke="#111" stroke-width="0.15" textLength="7" lengthAdjust="spacingAndGlyphs" >70</text>
<line x1="44.55" y1="280.7" x2="44.55" y2="283.3" stroke="#0a0a0a" stroke-width="1.0"/>
<text x="44.55" y="290.2" font-size="7.4" text-anchor="middle" fill="#111" stroke="#111" stroke-width="0.15" textLength="10.2" lengthAdjust="spacingAndGlyphs" >0.0</text>
<line x1="57.69" y1="280.7" x2="57.69" y2="282.3" stroke="#0a0a0a" stroke-width="0.7"/>
<line x1="70.84" y1="280.7" x2="70.84" y2="283.3" stroke="#0a0a0a" stroke-width="1.0"/>
<text x="70.84" y="290.2" font-size="7.4" text-anchor="middle" fill="#111" stroke="#111" stroke-width="0.15" textLength="10.2" lengthAdjust="spacingAndGlyphs" >0.5</text>
<line x1="83.98" y1="280.7" x2="83.98" y2="282.3" stroke="#0a0a0a" stroke-width="0.7"/>
<line x1="97.13" y1="280.7" x2="97.13" y2="283.3" stroke="#0a0a0a" stroke-width="1.0"/>
<text x="97.13" y="290.2" font-size="7.4" text-anchor="middle" fill="#111" stroke="#111" stroke-width="0.15" textLength="10.2" lengthAdjust="spacingAndGlyphs" >1.0</text>
<line x1="110.27" y1="280.7" x2="110.27" y2="282.3" stroke="#0a0a0a" stroke-width="0.7"/>
<line x1="123.42" y1="280.7" x2="123.42" y2="283.3" stroke="#0a0a0a" stroke-width="1.0"/>
<text x="123.42" y="290.2" font-size="7.4" text-anchor="middle" fill="#111" stroke="#111" stroke-width="0.15" textLength="10.2" lengthAdjust="spacingAndGlyphs" >1.5</text>
<line x1="136.56" y1="280.7" x2="136.56" y2="282.3" stroke="#0a0a0a" stroke-width="0.7"/>
<line x1="149.71" y1="280.7" x2="149.71" y2="283.3" stroke="#0a0a0a" stroke-width="1.0"/>
<text x="149.71" y="290.2" font-size="7.4" text-anchor="middle" fill="#111" stroke="#111" stroke-width="0.15" textLength="10.2" lengthAdjust="spacingAndGlyphs" >2.0</text>
<line x1="162.85" y1="280.7" x2="162.85" y2="282.3" stroke="#0a0a0a" stroke-width="0.7"/>
<text x="176" y="290.2" font-size="7.4" text-anchor="middle" fill="#111" stroke="#111" stroke-width="0.15" textLength="10.2" lengthAdjust="spacingAndGlyphs" >2.5</text>
<path d="M44.55,274.58 L49.58,274.01 L54.45,273.45 L59.15,272.89 L63.68,272.34 L68.04,271.79 L72.24,271.25 L76.29,270.71 L80.17,270.18 L83.9,269.65 L87.47,269.14 L90.89,268.62 L94.17,268.12 L97.3,267.62 L100.28,267.13 L103.13,266.64 L105.84,266.16 L108.41,265.69 L110.85,265.23 L113.15,264.77 L115.33,264.33 L117.39,263.89 L119.31,263.46 L121.12,263.04 L122.81,262.62 L124.38,262.22 L125.84,261.82 L127.19,261.44 L128.47,261.07 L129.7,260.72 L130.88,260.39 L132.01,260.08 L133.09,259.79 L134.12,259.52 L135.12,259.27 L136.08,259.04 L137,258.83 L137.89,258.65 L138.75,258.49 L139.57,258.34 L140.37,258.22 L141.15,258.11 L141.9,258.04 L142.63,257.98 L143.34,257.94 L144.03,257.92 L144.69,257.92 L145.34,257.94 L145.96,257.97 L146.56,258.03 L147.15,258.1 L147.71,258.19 L148.26,258.3 L148.79,258.42 L149.3,258.55 L149.82,258.68 L150.34,258.81 L150.87,258.93 L151.4,259.05 L151.94,259.16 L152.49,259.27 L153.04,259.37 L153.59,259.47 L154.16,259.55 L154.73,259.63 L155.32,259.71 L155.91,259.77 L156.51,259.83 L157.12,259.88 L157.74,259.91 L158.38,259.94 L159.02,259.95 L159.69,259.96 L160.36,259.95 L161.05,259.93 L161.75,259.9 L162.47,259.85 L163.19,259.79 L163.94,259.71 L164.7,259.63 L165.48,259.53" fill="none" stroke="#333333" stroke-width="1.3"/>
<path d="M44.55,273.09 L49.58,272.2 L54.45,271.35 L59.15,270.53 L63.68,269.75 L68.04,269 L72.24,268.28 L76.29,267.58 L80.17,266.93 L83.9,266.3 L87.47,265.71 L90.89,265.14 L94.17,264.6 L97.3,264.08 L100.28,263.59 L103.13,263.14 L105.84,262.7 L108.41,262.29 L110.85,261.9 L113.15,261.53 L115.33,261.19 L117.39,260.87 L119.31,260.57 L121.12,260.29 L122.81,260.03 L124.38,259.8 L125.84,259.57 L127.19,259.36 L128.47,259.15 L129.7,258.94 L130.88,258.73 L132.01,258.51 L133.09,258.28 L134.12,258.04 L135.12,257.79 L136.08,257.54 L137,257.26 L137.89,256.99 L138.75,256.7 L139.57,256.4 L140.37,256.09 L141.15,255.77 L141.9,255.43 L142.63,255.08 L143.34,254.72 L144.03,254.35 L144.69,253.98 L145.34,253.59 L145.96,253.21 L146.56,252.82 L147.15,252.43 L147.71,252.04 L148.26,251.64 L148.79,251.25 L149.3,250.86 L149.82,250.52 L150.34,250.22 L150.87,249.95 L151.4,249.72 L151.94,249.54 L152.49,249.4 L153.04,249.3 L153.59,249.26 L154.16,249.26 L154.73,249.3 L155.32,249.4 L155.91,249.56 L156.51,249.75 L157.12,250.01 L157.74,250.32 L158.38,250.69 L159.02,251.11 L159.69,251.59 L160.36,252.13 L161.05,252.74 L161.75,253.4 L162.47,254.13 L163.19,254.92 L163.94,255.78 L164.7,256.71 L165.48,257.71" fill="none" stroke="#555555" stroke-width="1.1"/>
<path d="M44.55,273.09 L49.58,272.2 L54.45,271.35 L59.15,270.53 L63.68,269.75 L68.04,269 L72.24,268.28 L76.29,267.58 L80.17,266.93 L83.9,266.3 L87.47,265.71 L90.89,265.14 L94.17,264.6 L97.3,264.08 L100.28,263.59 L103.13,263.14 L105.84,262.7 L108.41,262.29 L110.85,261.9 L113.15,261.53 L115.33,261.19 L117.39,260.87 L119.31,260.57 L121.12,260.29 L122.81,260.03 L124.38,259.8 L125.84,259.57 L127.19,259.36 L128.47,259.15 L129.7,258.94 L130.88,258.73 L132.01,258.51 L133.09,258.28 L134.12,258.04 L135.12,257.79 L136.08,257.54 L137,257.26 L137.89,256.99 L138.75,256.7 L139.57,256.4 L140.37,256.09 L141.15,255.77 L141.9,255.43 L142.63,255.08 L143.34,254.72 L144.03,254.35 L144.69,253.98 L145.34,253.59 L145.96,253.21 L146.56,252.82 L147.15,252.43 L147.71,252.04 L148.26,251.64 L148.79,251.25 L149.3,250.86 L149.82,250.52 L150.34,250.22 L150.87,249.95 L151.4,249.72 L151.94,249.54 L152.49,249.4 L153.04,249.3 L153.59,249.26 L154.16,249.26 L154.73,249.3 L155.32,249.4 L155.91,249.56 L156.51,249.75 L157.12,250.01 L157.74,250.32 L158.38,250.69 L159.02,251.11 L159.69,251.59 L160.36,252.13 L161.05,252.74 L161.75,253.4 L162.47,254.13 L163.19,254.92 L163.94,255.78 L164.7,256.71 L165.48,257.71" fill="none" stroke="#fff" stroke-opacity="0.6" stroke-width="0.4"/>
<path d="M44.55,263.5 L49.58,261.36 L54.45,259.27 L59.15,257.25 L63.68,255.28 L68.04,253.36 L72.24,251.51 L76.29,249.71 L80.17,247.96 L83.9,246.27 L87.47,244.63 L90.89,243.05 L94.17,241.52 L97.3,240.04 L100.28,238.61 L103.13,237.23 L105.84,235.91 L108.41,234.63 L110.85,233.4 L113.15,232.23 L115.33,231.1 L117.39,230.01 L119.31,228.97 L121.12,227.98 L122.81,227.04 L124.38,226.14 L125.84,225.29 L127.19,224.48 L128.47,223.7 L129.7,222.97 L130.88,222.27 L132.01,221.61 L133.09,220.99 L134.12,220.4 L135.12,219.85 L136.08,219.32 L137,218.83 L137.89,218.38 L138.75,217.96 L139.57,217.57 L140.37,217.21 L141.15,216.88 L141.9,216.58 L142.63,216.31 L143.34,216.08 L144.03,215.87 L144.69,215.7 L145.34,215.56 L145.96,215.45 L146.56,215.37 L147.15,215.33 L147.71,215.32 L148.26,215.34 L148.79,215.4 L149.3,215.5 L149.82,215.61 L150.34,215.76 L150.87,215.95 L151.4,216.16 L151.94,216.41 L152.49,216.69 L153.04,217 L153.59,217.34 L154.16,217.72 L154.73,218.14 L155.32,218.58 L155.91,219.06 L156.51,219.57 L157.12,220.12 L157.74,220.7 L158.38,221.31 L159.02,221.96 L159.69,222.65 L160.36,223.37 L161.05,224.12 L161.75,224.92 L162.47,225.74 L163.19,226.61 L163.94,227.51 L164.7,228.45 L165.48,229.42" fill="none" stroke="#ee1c1c" stroke-width="1.3"/>
<path d="M44.55,261.84 L49.58,259.02 L54.45,256.29 L59.15,253.66 L63.68,251.13 L68.04,248.7 L72.24,246.36 L76.29,244.12 L80.17,241.97 L83.9,239.91 L87.47,237.94 L90.89,236.06 L94.17,234.26 L97.3,232.56 L100.28,230.93 L103.13,229.38 L105.84,227.93 L108.41,226.54 L110.85,225.24 L113.15,224.01 L115.33,222.86 L117.39,221.79 L119.31,220.78 L121.12,219.85 L122.81,218.98 L124.38,218.19 L125.84,217.46 L127.19,216.79 L128.47,216.17 L129.7,215.58 L130.88,215.02 L132.01,214.49 L133.09,213.98 L134.12,213.51 L135.12,213.05 L136.08,212.62 L137,212.22 L137.89,211.83 L138.75,211.46 L139.57,211.11 L140.37,210.78 L141.15,210.46 L141.9,210.16 L142.63,209.87 L143.34,209.61 L144.03,209.38 L144.69,209.16 L145.34,208.97 L145.96,208.82 L146.56,208.69 L147.15,208.59 L147.71,208.53 L148.26,208.51 L148.79,208.52 L149.3,208.59 L149.82,208.73 L150.34,208.97 L150.87,209.29 L151.4,209.71 L151.94,210.22 L152.49,210.82 L153.04,211.52 L153.59,212.32 L154.16,213.23 L154.73,214.24 L155.32,215.34 L155.91,216.56 L156.51,217.89 L157.12,219.33 L157.74,220.88 L158.38,222.55 L159.02,224.33 L159.69,226.23 L160.36,228.26 L161.05,230.4 L161.75,232.68 L162.47,235.07 L163.19,237.59 L163.94,240.25 L164.7,243.04 L165.48,245.96" fill="none" stroke="#f04848" stroke-width="1.1"/>
<path d="M44.55,261.84 L49.58,259.02 L54.45,256.29 L59.15,253.66 L63.68,251.13 L68.04,248.7 L72.24,246.36 L76.29,244.12 L80.17,241.97 L83.9,239.91 L87.47,237.94 L90.89,236.06 L94.17,234.26 L97.3,232.56 L100.28,230.93 L103.13,229.38 L105.84,227.93 L108.41,226.54 L110.85,225.24 L113.15,224.01 L115.33,222.86 L117.39,221.79 L119.31,220.78 L121.12,219.85 L122.81,218.98 L124.38,218.19 L125.84,217.46 L127.19,216.79 L128.47,216.17 L129.7,215.58 L130.88,215.02 L132.01,214.49 L133.09,213.98 L134.12,213.51 L135.12,213.05 L136.08,212.62 L137,212.22 L137.89,211.83 L138.75,211.46 L139.57,211.11 L140.37,210.78 L141.15,210.46 L141.9,210.16 L142.63,209.87 L143.34,209.61 L144.03,209.38 L144.69,209.16 L145.34,208.97 L145.96,208.82 L146.56,208.69 L147.15,208.59 L147.71,208.53 L148.26,208.51 L148.79,208.52 L149.3,208.59 L149.82,208.73 L150.34,208.97 L150.87,209.29 L151.4,209.71 L151.94,210.22 L152.49,210.82 L153.04,211.52 L153.59,212.32 L154.16,213.23 L154.73,214.24 L155.32,215.34 L155.91,216.56 L156.51,217.89 L157.12,219.33 L157.74,220.88 L158.38,222.55 L159.02,224.33 L159.69,226.23 L160.36,228.26 L161.05,230.4 L161.75,232.68 L162.47,235.07 L163.19,237.59 L163.94,240.25 L164.7,243.04 L165.48,245.96" fill="none" stroke="#fff" stroke-opacity="0.6" stroke-width="0.4"/>
<path d="M44.55,244.47 L49.58,242.26 L54.45,240.09 L59.15,237.98 L63.68,235.92 L68.04,233.92 L72.24,231.97 L76.29,230.07 L80.17,228.22 L83.9,226.42 L87.47,224.68 L90.89,222.98 L94.17,221.34 L97.3,219.74 L100.28,218.2 L103.13,216.7 L105.84,215.26 L108.41,213.86 L110.85,212.51 L113.15,211.21 L115.33,209.95 L117.39,208.74 L119.31,207.58 L121.12,206.46 L122.81,205.39 L124.38,204.36 L125.84,203.39 L127.19,202.46 L128.47,201.56 L129.7,200.72 L130.88,199.92 L132.01,199.17 L133.09,198.46 L134.12,197.8 L135.12,197.18 L136.08,196.6 L137,196.07 L137.89,195.58 L138.75,195.13 L139.57,194.72 L140.37,194.35 L141.15,194.03 L141.9,193.75 L142.63,193.51 L143.34,193.31 L144.03,193.15 L144.69,193.04 L145.34,192.97 L145.96,192.94 L146.56,192.95 L147.15,193.02 L147.71,193.11 L148.26,193.26 L148.79,193.45 L149.3,193.68 L149.82,193.95 L150.34,194.27 L150.87,194.62 L151.4,195.01 L151.94,195.44 L152.49,195.91 L153.04,196.43 L153.59,196.98 L154.16,197.57 L154.73,198.21 L155.32,198.88 L155.91,199.61 L156.51,200.37 L157.12,201.17 L157.74,202.01 L158.38,202.9 L159.02,203.84 L159.69,204.81 L160.36,205.83 L161.05,206.89 L161.75,208 L162.47,209.15 L163.19,210.34 L163.94,211.58 L164.7,212.87 L165.48,214.2" fill="none" stroke="#1a5ee0" stroke-width="1.3"/>
<path d="M44.55,241 L49.58,238.23 L54.45,235.52 L59.15,232.88 L63.68,230.31 L68.04,227.79 L72.24,225.34 L76.29,222.96 L80.17,220.64 L83.9,218.38 L87.47,216.18 L90.89,214.05 L94.17,211.97 L97.3,209.96 L100.28,208.01 L103.13,206.11 L105.84,204.28 L108.41,202.51 L110.85,200.8 L113.15,199.15 L115.33,197.55 L117.39,196.01 L119.31,194.53 L121.12,193.11 L122.81,191.74 L124.38,190.43 L125.84,189.18 L127.19,187.98 L128.47,186.84 L129.7,185.76 L130.88,184.74 L132.01,183.78 L133.09,182.88 L134.12,182.04 L135.12,181.25 L136.08,180.53 L137,179.86 L137.89,179.26 L138.75,178.7 L139.57,178.21 L140.37,177.76 L141.15,177.38 L141.9,177.05 L142.63,176.78 L143.34,176.57 L144.03,176.41 L144.69,176.31 L145.34,176.28 L145.96,176.31 L146.56,176.4 L147.15,176.55 L147.71,176.76 L148.26,177.04 L148.79,177.38 L149.3,177.78 L149.82,178.25 L150.34,178.8 L150.87,179.41 L151.4,180.1 L151.94,180.85 L152.49,181.68 L153.04,182.58 L153.59,183.56 L154.16,184.6 L154.73,185.73 L155.32,186.93 L155.91,188.21 L156.51,189.56 L157.12,190.99 L157.74,192.5 L158.38,194.1 L159.02,195.76 L159.69,197.51 L160.36,199.35 L161.05,201.26 L161.75,203.26 L162.47,205.34 L163.19,207.51 L163.94,209.77 L164.7,212.11 L165.48,214.53" fill="none" stroke="#3a80ec" stroke-width="1.1"/>
<path d="M44.55,241 L49.58,238.23 L54.45,235.52 L59.15,232.88 L63.68,230.31 L68.04,227.79 L72.24,225.34 L76.29,222.96 L80.17,220.64 L83.9,218.38 L87.47,216.18 L90.89,214.05 L94.17,211.97 L97.3,209.96 L100.28,208.01 L103.13,206.11 L105.84,204.28 L108.41,202.51 L110.85,200.8 L113.15,199.15 L115.33,197.55 L117.39,196.01 L119.31,194.53 L121.12,193.11 L122.81,191.74 L124.38,190.43 L125.84,189.18 L127.19,187.98 L128.47,186.84 L129.7,185.76 L130.88,184.74 L132.01,183.78 L133.09,182.88 L134.12,182.04 L135.12,181.25 L136.08,180.53 L137,179.86 L137.89,179.26 L138.75,178.7 L139.57,178.21 L140.37,177.76 L141.15,177.38 L141.9,177.05 L142.63,176.78 L143.34,176.57 L144.03,176.41 L144.69,176.31 L145.34,176.28 L145.96,176.31 L146.56,176.4 L147.15,176.55 L147.71,176.76 L148.26,177.04 L148.79,177.38 L149.3,177.78 L149.82,178.25 L150.34,178.8 L150.87,179.41 L151.4,180.1 L151.94,180.85 L152.49,181.68 L153.04,182.58 L153.59,183.56 L154.16,184.6 L154.73,185.73 L155.32,186.93 L155.91,188.21 L156.51,189.56 L157.12,190.99 L157.74,192.5 L158.38,194.1 L159.02,195.76 L159.69,197.51 L160.36,199.35 L161.05,201.26 L161.75,203.26 L162.47,205.34 L163.19,207.51 L163.94,209.77 L164.7,212.11 L165.48,214.53" fill="none" stroke="#fff" stroke-opacity="0.6" stroke-width="0.4"/>
<rect x="42.48" y="272.51" width="4.14" height="4.14" fill="#333333" stroke="#333333" stroke-width="0.6"/>
<rect x="110.83" y="264.9" width="4.14" height="4.14" fill="#333333" stroke="#333333" stroke-width="0.6"/>
<rect x="142.38" y="252.49" width="4.14" height="4.14" fill="#333333" stroke="#333333" stroke-width="0.6"/>
<rect x="152.9" y="258.94" width="4.14" height="4.14" fill="#333333" stroke="#333333" stroke-width="0.6"/>
<rect x="163.41" y="257.46" width="4.14" height="4.14" fill="#333333" stroke="#333333" stroke-width="0.6"/>
<rect x="42.48" y="271.02" width="4.14" height="4.14" fill="#fff" stroke="#555555" stroke-width="0.8"/><rect x="42.48" y="271.02" width="4.14" height="1.86" fill="#555555"/>
<rect x="110.83" y="258.94" width="4.14" height="4.14" fill="#fff" stroke="#555555" stroke-width="0.8"/><rect x="110.83" y="258.94" width="4.14" height="1.86" fill="#555555"/>
<rect x="142.38" y="256.3" width="4.14" height="4.14" fill="#fff" stroke="#555555" stroke-width="0.8"/><rect x="142.38" y="256.3" width="4.14" height="1.86" fill="#555555"/>
<rect x="152.9" y="241.9" width="4.14" height="4.14" fill="#fff" stroke="#555555" stroke-width="0.8"/><rect x="152.9" y="241.9" width="4.14" height="1.86" fill="#555555"/>
<rect x="163.41" y="255.64" width="4.14" height="4.14" fill="#fff" stroke="#555555" stroke-width="0.8"/><rect x="163.41" y="255.64" width="4.14" height="1.86" fill="#555555"/>
<circle cx="44.55" cy="263.5" r="2.3" fill="#ee1c1c" stroke="#ee1c1c" stroke-width="0.6"/>
<circle cx="112.9" cy="234.55" r="2.3" fill="#ee1c1c" stroke="#ee1c1c" stroke-width="0.6"/>
<circle cx="144.45" cy="212.05" r="2.3" fill="#ee1c1c" stroke="#ee1c1c" stroke-width="0.6"/>
<circle cx="154.97" cy="216.18" r="2.3" fill="#ee1c1c" stroke="#ee1c1c" stroke-width="0.6"/>
<circle cx="165.48" cy="229.42" r="2.3" fill="#ee1c1c" stroke="#ee1c1c" stroke-width="0.6"/>
<circle cx="44.55" cy="261.84" r="2.3" fill="#fff" stroke="#f04848" stroke-width="0.8"/><path d="M42.25,261.84 A2.3,2.3 0 0 1 46.85,261.84 Z" fill="#f04848"/>
<circle cx="112.9" cy="223.46" r="2.3" fill="#fff" stroke="#f04848" stroke-width="0.8"/><path d="M110.6,223.46 A2.3,2.3 0 0 1 115.2,223.46 Z" fill="#f04848"/>
<circle cx="144.45" cy="208.24" r="2.3" fill="#fff" stroke="#f04848" stroke-width="0.8"/><path d="M142.15,208.24 A2.3,2.3 0 0 1 146.75,208.24 Z" fill="#f04848"/>
<circle cx="154.97" cy="206.09" r="2.3" fill="#fff" stroke="#f04848" stroke-width="0.8"/><path d="M152.67,206.09 A2.3,2.3 0 0 1 157.27,206.09 Z" fill="#f04848"/>
<circle cx="165.48" cy="245.96" r="2.3" fill="#fff" stroke="#f04848" stroke-width="0.8"/><path d="M163.18,245.96 A2.3,2.3 0 0 1 167.78,245.96 Z" fill="#f04848"/>
<path d="M44.55,241.87 L47.67,246.55 L41.43,246.55 Z" fill="#1a5ee0" stroke="#1a5ee0" stroke-width="0.6"/>
<path d="M112.9,211.93 L116.02,216.61 L109.78,216.61 Z" fill="#1a5ee0" stroke="#1a5ee0" stroke-width="0.6"/>
<path d="M144.45,184.8 L147.57,189.48 L141.33,189.48 Z" fill="#1a5ee0" stroke="#1a5ee0" stroke-width="0.6"/>
<path d="M154.97,193.57 L158.09,198.25 L151.85,198.25 Z" fill="#1a5ee0" stroke="#1a5ee0" stroke-width="0.6"/>
<path d="M165.48,211.6 L168.6,216.28 L162.36,216.28 Z" fill="#1a5ee0" stroke="#1a5ee0" stroke-width="0.6"/>
<path d="M44.55,238.4 L47.67,243.08 L41.43,243.08 Z" fill="#fff" stroke="#3a80ec" stroke-width="0.7"/><path d="M44.55,238.4 L46.26,241.26 L42.83,241.26 Z" fill="#3a80ec"/>
<path d="M112.9,201.01 L116.02,205.69 L109.78,205.69 Z" fill="#fff" stroke="#3a80ec" stroke-width="0.7"/><path d="M112.9,201.01 L114.62,203.87 L111.19,203.87 Z" fill="#3a80ec"/>
<path d="M144.45,165.77 L147.57,170.45 L141.33,170.45 Z" fill="#fff" stroke="#3a80ec" stroke-width="0.7"/><path d="M144.45,165.77 L146.17,168.63 L142.73,168.63 Z" fill="#3a80ec"/>
<path d="M154.97,179.01 L158.09,183.69 L151.85,183.69 Z" fill="#fff" stroke="#3a80ec" stroke-width="0.7"/><path d="M154.97,179.01 L156.68,181.87 L153.25,181.87 Z" fill="#3a80ec"/>
<path d="M165.48,211.93 L168.6,216.61 L162.36,216.61 Z" fill="#fff" stroke="#3a80ec" stroke-width="0.7"/><path d="M165.48,211.93 L167.2,214.79 L163.77,214.79 Z" fill="#3a80ec"/>
<rect x="31.4" y="164.9" width="144.6" height="115.8" fill="none" stroke="#0a0a0a" stroke-width="1.4"/>
<rect x="32" y="165.5" width="69.3" height="41.2" fill="#fff" stroke="#999" stroke-width="0.6"/>
<line x1="33.2" y1="169.3" x2="46.2" y2="169.3" stroke="#333333" stroke-width="1.3"/>
<rect x="37.9" y="167.5" width="3.6" height="3.6" fill="#333333" stroke="#333333" stroke-width="0.6"/>
<text x="47.2" y="171.4" font-size="6.0" text-anchor="start" fill="#111" stroke="#111" stroke-width="0.12" textLength="51.7" lengthAdjust="spacingAndGlyphs" >30 MV/m unstretched</text>
<line x1="33.2" y1="176.05" x2="46.2" y2="176.05" stroke="#555555" stroke-width="0.7"/>
<rect x="37.9" y="174.25" width="3.6" height="3.6" fill="#fff" stroke="#555555" stroke-width="0.8"/><rect x="37.9" y="174.25" width="3.6" height="1.62" fill="#555555"/>
<text x="47.2" y="178.15" font-size="6.0" text-anchor="start" fill="#111" stroke="#111" stroke-width="0.12" textLength="45.65" lengthAdjust="spacingAndGlyphs" >30 MV/m stretched</text>
<line x1="33.2" y1="182.8" x2="46.2" y2="182.8" stroke="#ee1c1c" stroke-width="1.3"/>
<circle cx="39.7" cy="182.8" r="2" fill="#ee1c1c" stroke="#ee1c1c" stroke-width="0.6"/>
<text x="47.2" y="184.9" font-size="6.0" text-anchor="start" fill="#111" stroke="#111" stroke-width="0.12" textLength="51.7" lengthAdjust="spacingAndGlyphs" >50 MV/m unstretched</text>
<line x1="33.2" y1="189.55" x2="46.2" y2="189.55" stroke="#f04848" stroke-width="0.7"/>
<circle cx="39.7" cy="189.55" r="2" fill="#fff" stroke="#f04848" stroke-width="0.8"/><path d="M37.7,189.55 A2,2 0 0 1 41.7,189.55 Z" fill="#f04848"/>
<text x="47.2" y="191.65" font-size="6.0" text-anchor="start" fill="#111" stroke="#111" stroke-width="0.12" textLength="45.65" lengthAdjust="spacingAndGlyphs" >50 MV/m stretched</text>
<line x1="33.2" y1="196.3" x2="46.2" y2="196.3" stroke="#1a5ee0" stroke-width="1.3"/>
<path d="M39.7,194.3 L42.1,197.9 L37.3,197.9 Z" fill="#1a5ee0" stroke="#1a5ee0" stroke-width="0.6"/>
<text x="47.2" y="198.4" font-size="6.0" text-anchor="start" fill="#111" stroke="#111" stroke-width="0.12" textLength="51.7" lengthAdjust="spacingAndGlyphs" >70 MV/m unstretched</text>
<line x1="33.2" y1="203.05" x2="46.2" y2="203.05" stroke="#3a80ec" stroke-width="0.7"/>
<path d="M39.7,201.05 L42.1,204.65 L37.3,204.65 Z" fill="#fff" stroke="#3a80ec" stroke-width="0.7"/><path d="M39.7,201.05 L41.02,203.25 L38.38,203.25 Z" fill="#3a80ec"/>
<text x="47.2" y="205.15" font-size="6.0" text-anchor="start" fill="#111" stroke="#111" stroke-width="0.12" textLength="45.65" lengthAdjust="spacingAndGlyphs" >70 MV/m stretched</text>
<text x="71.2" y="302.3" font-size="7.8" text-anchor="start" fill="#111" stroke="#111" stroke-width="0.07" textLength="66" lengthAdjust="spacingAndGlyphs" >Content of FA (%)</text>
<text x="0" y="0" font-size="7.8" text-anchor="middle" fill="#111" stroke="#111" stroke-width="0.07" letter-spacing="0.45" transform="translate(14.2,222.1) rotate(-90)">ΔS (Jkg<tspan font-size="4.6" dy="-2.4">-1</tspan><tspan dy="2.4">K</tspan><tspan font-size="4.6" dy="-2.4">-1</tspan><tspan dy="2.4">)</tspan></text>
<text x="0" y="0" font-size="15" fill="#111" stroke="#111" stroke-width="0.12" transform="translate(199.8,166.2) scale(0.86,1)">d<tspan dx="1.6">)</tspan></text>
<line x1="228.6" y1="280.7" x2="231.2" y2="280.7" stroke="#0a0a0a" stroke-width="1.0"/>
<text x="227" y="283.1" font-size="7.4" text-anchor="end" fill="#111" stroke="#111" stroke-width="0.15" textLength="3.7" lengthAdjust="spacingAndGlyphs" >0</text>
<line x1="229.6" y1="261.45" x2="231.2" y2="261.45" stroke="#0a0a0a" stroke-width="0.8"/>
<line x1="228.6" y1="242.2" x2="231.2" y2="242.2" stroke="#0a0a0a" stroke-width="1.0"/>
<text x="227" y="244.6" font-size="7.4" text-anchor="end" fill="#111" stroke="#111" stroke-width="0.15" textLength="7.4" lengthAdjust="spacingAndGlyphs" >10</text>
<line x1="229.6" y1="222.95" x2="231.2" y2="222.95" stroke="#0a0a0a" stroke-width="0.8"/>
<line x1="228.6" y1="203.7" x2="231.2" y2="203.7" stroke="#0a0a0a" stroke-width="1.0"/>
<text x="227" y="206.1" font-size="7.4" text-anchor="end" fill="#111" stroke="#111" stroke-width="0.15" textLength="7.4" lengthAdjust="spacingAndGlyphs" >20</text>
<line x1="229.6" y1="184.45" x2="231.2" y2="184.45" stroke="#0a0a0a" stroke-width="0.8"/>
<line x1="228.6" y1="165.2" x2="231.2" y2="165.2" stroke="#0a0a0a" stroke-width="1.0"/>
<text x="227" y="167.6" font-size="7.4" text-anchor="end" fill="#111" stroke="#111" stroke-width="0.15" textLength="7.4" lengthAdjust="spacingAndGlyphs" >30</text>
<line x1="231.2" y1="280.7" x2="231.2" y2="283.3" stroke="#0a0a0a" stroke-width="1.0"/>
<text x="231.2" y="289.5" font-size="7.4" text-anchor="middle" fill="#111" stroke="#111" stroke-width="0.15" textLength="3.8" lengthAdjust="spacingAndGlyphs" >0</text>
<line x1="255.2" y1="280.7" x2="255.2" y2="282.3" stroke="#0a0a0a" stroke-width="1.0"/>
<line x1="279.2" y1="280.7" x2="279.2" y2="283.3" stroke="#0a0a0a" stroke-width="1.0"/>
<text x="279.2" y="289.5" font-size="7.4" text-anchor="middle" fill="#111" stroke="#111" stroke-width="0.15" textLength="7.6" lengthAdjust="spacingAndGlyphs" >20</text>
<line x1="303.2" y1="280.7" x2="303.2" y2="282.3" stroke="#0a0a0a" stroke-width="1.0"/>
<line x1="327.2" y1="280.7" x2="327.2" y2="283.3" stroke="#0a0a0a" stroke-width="1.0"/>
<text x="327.2" y="289.5" font-size="7.4" text-anchor="middle" fill="#111" stroke="#111" stroke-width="0.15" textLength="7.6" lengthAdjust="spacingAndGlyphs" >40</text>
<line x1="351.2" y1="280.7" x2="351.2" y2="282.3" stroke="#0a0a0a" stroke-width="1.0"/>
<text x="375.2" y="289.5" font-size="7.4" text-anchor="middle" fill="#111" stroke="#111" stroke-width="0.15" textLength="7.6" lengthAdjust="spacingAndGlyphs" >60</text>
<path d="M231.2,279.55 L233.18,278.26 L235.15,276.97 L237.13,275.67 L239.1,274.38 L241.08,273.08 L243.06,271.78 L245.03,270.48 L247.01,269.18 L248.98,267.87 L250.96,266.56 L252.94,265.25 L254.91,263.93 L256.89,262.62 L258.86,261.3 L260.84,259.97 L262.82,258.65 L264.79,257.32 L266.77,255.99 L268.74,254.66 L270.72,253.32 L272.7,251.98 L274.67,250.64 L276.65,249.3 L278.62,247.95 L280.6,246.6 L282.58,245.24 L284.55,243.89 L286.53,242.53 L288.5,241.16 L290.48,239.79 L292.46,238.42 L294.43,237.05 L296.41,235.67 L298.38,234.29 L300.36,232.9 L302.34,231.51 L304.31,230.12 L306.29,228.72 L308.26,227.32 L310.24,225.91 L312.22,224.49 L314.19,223.08 L316.17,221.65 L318.14,220.22 L320.12,218.79 L322.1,217.35 L324.07,215.9 L326.05,214.45 L328.02,212.98 L330,211.51 L331.98,210.03 L333.95,208.54 L335.93,207.04 L337.9,205.53 L339.88,203.99 L341.86,202.44 L343.83,200.87 L345.81,199.26 L347.78,197.58 L349.76,195.61 L349.76,195.61 L347.78,196.47 L345.81,197.36 L343.83,198.28 L341.86,199.22 L339.88,200.19 L337.9,201.19 L335.93,202.21 L333.95,203.26 L331.98,204.33 L330,205.43 L328.02,206.54 L326.05,207.68 L324.07,208.85 L322.1,210.03 L320.12,211.23 L318.14,212.45 L316.17,213.69 L314.19,214.94 L312.22,216.22 L310.24,217.51 L308.26,218.81 L306.29,220.13 L304.31,221.46 L302.34,222.8 L300.36,224.16 L298.38,225.53 L296.41,226.91 L294.43,228.29 L292.46,229.69 L290.48,231.1 L288.5,232.51 L286.53,233.93 L284.55,235.36 L282.58,236.79 L280.6,238.22 L278.62,239.66 L276.65,241.11 L274.67,242.55 L272.7,244 L270.72,245.45 L268.74,246.89 L266.77,248.34 L264.79,249.78 L262.82,251.23 L260.84,252.67 L258.86,254.1 L256.89,255.53 L254.91,256.96 L252.94,258.38 L250.96,259.79 L248.98,261.2 L247.01,262.6 L245.03,263.98 L243.06,265.36 L241.08,266.73 L239.1,268.09 L237.13,269.43 L235.15,270.76 L233.18,272.08 L231.2,273.38" fill="none" stroke="#9a10f0" stroke-width="1.6" stroke-linejoin="round" stroke-linecap="round"/>
<path d="M231.2,279.93 L233.18,278.64 L235.17,277.34 L237.15,276.04 L239.14,274.72 L241.12,273.41 L243.1,272.08 L245.09,270.75 L247.07,269.41 L249.06,268.06 L251.04,266.71 L253.02,265.35 L255.01,263.98 L256.99,262.61 L258.98,261.23 L260.96,259.84 L262.94,258.44 L264.93,257.03 L266.91,255.62 L268.9,254.2 L270.88,252.77 L272.86,251.33 L274.85,249.89 L276.83,248.43 L278.82,246.97 L280.8,245.49 L282.78,244.01 L284.77,242.52 L286.75,241.02 L288.74,239.51 L290.72,237.99 L292.7,236.46 L294.69,234.92 L296.67,233.36 L298.66,231.8 L300.64,230.23 L302.62,228.64 L304.61,227.04 L306.59,225.43 L308.58,223.81 L310.56,222.17 L312.54,220.52 L314.53,218.86 L316.51,217.17 L318.5,215.48 L320.48,213.76 L322.46,212.03 L324.45,210.28 L326.43,208.51 L328.42,206.72 L330.4,204.9 L332.38,203.05 L334.37,201.18 L336.35,199.27 L338.34,197.33 L340.32,195.34 L342.3,193.29 L344.29,191.17 L346.27,188.94 L348.26,186.53 L350.24,183.29 L350.24,183.29 L348.26,183.99 L346.27,184.73 L344.29,185.52 L342.3,186.37 L340.32,187.26 L338.34,188.21 L336.35,189.19 L334.37,190.22 L332.38,191.3 L330.4,192.42 L328.42,193.57 L326.43,194.77 L324.45,196.01 L322.46,197.28 L320.48,198.58 L318.5,199.92 L316.51,201.3 L314.53,202.7 L312.54,204.13 L310.56,205.6 L308.58,207.09 L306.59,208.6 L304.61,210.14 L302.62,211.7 L300.64,213.29 L298.66,214.89 L296.67,216.51 L294.69,218.15 L292.7,219.81 L290.72,221.48 L288.74,223.17 L286.75,224.86 L284.77,226.57 L282.78,228.29 L280.8,230.02 L278.82,231.75 L276.83,233.49 L274.85,235.23 L272.86,236.97 L270.88,238.72 L268.9,240.47 L266.91,242.21 L264.93,243.95 L262.94,245.69 L260.96,247.42 L258.98,249.15 L256.99,250.87 L255.01,252.58 L253.02,254.27 L251.04,255.96 L249.06,257.63 L247.07,259.29 L245.09,260.93 L243.1,262.55 L241.12,264.16 L239.14,265.74 L237.15,267.3 L235.17,268.84 L233.18,270.36 L231.2,271.84" fill="none" stroke="#1a2af0" stroke-width="1.6" stroke-linejoin="round" stroke-linecap="round"/>
<path d="M231.2,279.55 L233.21,278.17 L235.22,276.79 L237.22,275.41 L239.23,274.01 L241.24,272.61 L243.25,271.2 L245.26,269.78 L247.26,268.36 L249.27,266.92 L251.28,265.48 L253.29,264.03 L255.3,262.57 L257.3,261.11 L259.31,259.63 L261.32,258.15 L263.33,256.66 L265.34,255.16 L267.34,253.65 L269.35,252.13 L271.36,250.6 L273.37,249.06 L275.38,247.52 L277.38,245.96 L279.39,244.39 L281.4,242.81 L283.41,241.23 L285.42,239.63 L287.42,238.02 L289.43,236.4 L291.44,234.77 L293.45,233.13 L295.46,231.47 L297.46,229.81 L299.47,228.13 L301.48,226.44 L303.49,224.73 L305.5,223.02 L307.5,221.28 L309.51,219.54 L311.52,217.77 L313.53,215.99 L315.54,214.2 L317.54,212.39 L319.55,210.56 L321.56,208.71 L323.57,206.84 L325.58,204.95 L327.58,203.03 L329.59,201.09 L331.6,199.13 L333.61,197.13 L335.62,195.1 L337.62,193.04 L339.63,190.92 L341.64,188.76 L343.65,186.54 L345.66,184.23 L347.66,181.8 L349.67,179.17 L351.68,175.59 L351.68,175.59 L349.67,176.43 L347.66,177.32 L345.66,178.26 L343.65,179.25 L341.64,180.28 L339.63,181.37 L337.62,182.5 L335.62,183.67 L333.61,184.89 L331.6,186.15 L329.59,187.45 L327.58,188.79 L325.58,190.17 L323.57,191.58 L321.56,193.03 L319.55,194.51 L317.54,196.02 L315.54,197.57 L313.53,199.15 L311.52,200.75 L309.51,202.38 L307.5,204.03 L305.5,205.71 L303.49,207.42 L301.48,209.14 L299.47,210.89 L297.46,212.65 L295.46,214.43 L293.45,216.23 L291.44,218.04 L289.43,219.87 L287.42,221.7 L285.42,223.55 L283.41,225.41 L281.4,227.28 L279.39,229.15 L277.38,231.03 L275.38,232.91 L273.37,234.8 L271.36,236.68 L269.35,238.57 L267.34,240.45 L265.34,242.34 L263.33,244.21 L261.32,246.09 L259.31,247.95 L257.3,249.81 L255.3,251.66 L253.29,253.5 L251.28,255.32 L249.27,257.13 L247.26,258.93 L245.26,260.71 L243.25,262.48 L241.24,264.22 L239.23,265.95 L237.22,267.65 L235.22,269.33 L233.21,270.98 L231.2,272.62" fill="none" stroke="#20e0c8" stroke-width="1.6" stroke-linejoin="round" stroke-linecap="round"/>
<path d="M231.2,279.55 L233.19,278.27 L235.18,276.99 L237.16,275.7 L239.15,274.41 L241.14,273.1 L243.13,271.79 L245.12,270.47 L247.1,269.14 L249.09,267.8 L251.08,266.45 L253.07,265.09 L255.06,263.73 L257.04,262.35 L259.03,260.97 L261.02,259.57 L263.01,258.17 L265,256.76 L266.98,255.33 L268.97,253.9 L270.96,252.46 L272.95,251 L274.94,249.54 L276.92,248.06 L278.91,246.58 L280.9,245.08 L282.89,243.57 L284.88,242.05 L286.86,240.52 L288.85,238.98 L290.84,237.42 L292.83,235.85 L294.82,234.27 L296.8,232.67 L298.79,231.06 L300.78,229.44 L302.77,227.8 L304.76,226.15 L306.74,224.48 L308.73,222.8 L310.72,221.1 L312.71,219.38 L314.7,217.64 L316.68,215.89 L318.67,214.11 L320.66,212.31 L322.65,210.49 L324.64,208.65 L326.62,206.78 L328.61,204.89 L330.6,202.96 L332.59,201 L334.58,199.01 L336.56,196.97 L338.55,194.89 L340.54,192.75 L342.53,190.53 L344.52,188.23 L346.5,185.8 L348.49,183.14 L350.48,179.44 L350.48,179.44 L348.49,180.29 L346.5,181.17 L344.52,182.1 L342.53,183.07 L340.54,184.07 L338.55,185.12 L336.56,186.21 L334.58,187.33 L332.59,188.49 L330.6,189.68 L328.61,190.91 L326.62,192.16 L324.64,193.45 L322.65,194.77 L320.66,196.12 L318.67,197.5 L316.68,198.9 L314.7,200.33 L312.71,201.79 L310.72,203.26 L308.73,204.76 L306.74,206.28 L304.76,207.83 L302.77,209.39 L300.78,210.96 L298.79,212.56 L296.8,214.17 L294.82,215.79 L292.83,217.43 L290.84,219.08 L288.85,220.74 L286.86,222.41 L284.88,224.09 L282.89,225.78 L280.9,227.48 L278.91,229.18 L276.92,230.88 L274.94,232.59 L272.95,234.3 L270.96,236.01 L268.97,237.73 L266.98,239.44 L265,241.15 L263.01,242.85 L261.02,244.55 L259.03,246.25 L257.04,247.93 L255.06,249.61 L253.07,251.29 L251.08,252.95 L249.09,254.6 L247.1,256.24 L245.12,257.86 L243.13,259.47 L241.14,261.07 L239.15,262.64 L237.16,264.2 L235.18,265.74 L233.19,267.27 L231.2,268.76" fill="none" stroke="#ffc800" stroke-width="1.6" stroke-linejoin="round" stroke-linecap="round"/>
<path d="M231.2,280.31 L233.18,279.15 L235.15,277.97 L237.13,276.79 L239.1,275.6 L241.08,274.4 L243.06,273.2 L245.03,271.99 L247.01,270.77 L248.98,269.54 L250.96,268.31 L252.94,267.07 L254.91,265.83 L256.89,264.57 L258.86,263.31 L260.84,262.04 L262.82,260.76 L264.79,259.48 L266.77,258.18 L268.74,256.88 L270.72,255.57 L272.7,254.25 L274.67,252.92 L276.65,251.59 L278.62,250.24 L280.6,248.89 L282.58,247.52 L284.55,246.15 L286.53,244.77 L288.5,243.38 L290.48,241.97 L292.46,240.56 L294.43,239.13 L296.41,237.7 L298.38,236.25 L300.36,234.8 L302.34,233.33 L304.31,231.84 L306.29,230.35 L308.26,228.84 L310.24,227.32 L312.22,225.78 L314.19,224.23 L316.17,222.66 L318.14,221.08 L320.12,219.48 L322.1,217.86 L324.07,216.22 L326.05,214.56 L328.02,212.88 L330,211.17 L331.98,209.44 L333.95,207.68 L335.93,205.88 L337.9,204.04 L339.88,202.16 L341.86,200.22 L343.83,198.2 L345.81,196.08 L347.78,193.77 L349.76,190.61 L349.76,190.61 L347.78,191.05 L345.81,191.56 L343.83,192.12 L341.86,192.74 L339.88,193.41 L337.9,194.14 L335.93,194.92 L333.95,195.75 L331.98,196.63 L330,197.56 L328.02,198.54 L326.05,199.55 L324.07,200.61 L322.1,201.72 L320.12,202.86 L318.14,204.04 L316.17,205.26 L314.19,206.51 L312.22,207.8 L310.24,209.12 L308.26,210.47 L306.29,211.85 L304.31,213.25 L302.34,214.69 L300.36,216.14 L298.38,217.62 L296.41,219.12 L294.43,220.65 L292.46,222.19 L290.48,223.74 L288.5,225.32 L286.53,226.9 L284.55,228.5 L282.58,230.11 L280.6,231.73 L278.62,233.35 L276.65,234.99 L274.67,236.62 L272.7,238.26 L270.72,239.9 L268.74,241.55 L266.77,243.18 L264.79,244.82 L262.82,246.45 L260.84,248.08 L258.86,249.7 L256.89,251.31 L254.91,252.91 L252.94,254.49 L250.96,256.06 L248.98,257.62 L247.01,259.16 L245.03,260.68 L243.06,262.18 L241.08,263.66 L239.1,265.12 L237.13,266.55 L235.15,267.96 L233.18,269.34 L231.2,270.69" fill="none" stroke="#f82a10" stroke-width="1.6" stroke-linejoin="round" stroke-linecap="round"/>
<rect x="231.2" y="165.2" width="144" height="115.5" fill="none" stroke="#0a0a0a" stroke-width="1.4"/>
<rect x="235" y="167.5" width="60.6" height="37.1" fill="#fff" stroke="#999" stroke-width="0.6"/>
<line x1="235.8" y1="171.8" x2="249.7" y2="171.8" stroke="#9a10f0" stroke-width="1.5"/>
<text x="251.3" y="174.05" font-size="6.5" text-anchor="start" fill="#111" stroke="#111" stroke-width="0.03" textLength="33.89" lengthAdjust="spacingAndGlyphs" >S-terpolymer</text>
<line x1="235.8" y1="179.1" x2="249.7" y2="179.1" stroke="#1a2af0" stroke-width="1.5"/>
<text x="251.3" y="181.35" font-size="6.5" text-anchor="start" fill="#111" stroke="#111" stroke-width="0.03" textLength="41.8" lengthAdjust="spacingAndGlyphs" >S-tetra 1.3% FA</text>
<line x1="235.8" y1="186.4" x2="249.7" y2="186.4" stroke="#20e0c8" stroke-width="1.5"/>
<text x="251.3" y="188.65" font-size="6.5" text-anchor="start" fill="#111" stroke="#111" stroke-width="0.03" textLength="41.8" lengthAdjust="spacingAndGlyphs" >S-tetra 1.9% FA</text>
<line x1="235.8" y1="193.7" x2="249.7" y2="193.7" stroke="#ffc800" stroke-width="1.5"/>
<text x="251.3" y="195.95" font-size="6.5" text-anchor="start" fill="#111" stroke="#111" stroke-width="0.03" textLength="41.8" lengthAdjust="spacingAndGlyphs" >S-tetra 2.1% FA</text>
<line x1="235.8" y1="201" x2="249.7" y2="201" stroke="#f82a10" stroke-width="1.5"/>
<text x="251.3" y="203.25" font-size="6.5" text-anchor="start" fill="#111" stroke="#111" stroke-width="0.03" textLength="41.8" lengthAdjust="spacingAndGlyphs" >S-tetra 2.3% FA</text>
<text x="265.3" y="302.8" font-size="8.1" text-anchor="start" fill="#111" stroke="#111" stroke-width="0.07" textLength="75.2" lengthAdjust="spacingAndGlyphs" >Electric Field (MV/m)</text>
<text x="0" y="0" font-size="7.8" text-anchor="middle" fill="#111" stroke="#111" stroke-width="0.07" letter-spacing="0.15" transform="translate(214.2,218.2) rotate(-90)">Polarization (mC/m<tspan font-size="4.8" dy="-2.6">2</tspan><tspan dy="2.6">)</tspan></text>
<text x="0" y="0" font-size="15" fill="#111" stroke="#111" stroke-width="0.12" transform="translate(386.4,166.3) scale(0.86,1)">e<tspan dx="1.6">)</tspan></text>
<defs><linearGradient id="bg" x1="0" y1="0" x2="0" y2="1"><stop offset="0" stop-color="#0b702e"/><stop offset="0.25" stop-color="#0f763c"/><stop offset="0.5" stop-color="#11807a"/><stop offset="0.72" stop-color="#168cc8"/><stop offset="1" stop-color="#1896e2"/></linearGradient><pattern id="hatch" patternUnits="userSpaceOnUse" width="2.4" height="2.4" patternTransform="rotate(45)"><line x1="0" y1="0" x2="0" y2="2.4" stroke="#ffffff" stroke-opacity="0.10" stroke-width="0.9"/></pattern></defs>
<line x1="427.1" y1="280.5" x2="429.7" y2="280.5" stroke="#0a0a0a" stroke-width="1.0"/>
<text x="425.7" y="282.9" font-size="6.8" text-anchor="end" fill="#111" stroke="#111" stroke-width="0.12" textLength="9.5" lengthAdjust="spacingAndGlyphs" >0.0</text>
<line x1="427.1" y1="265.01" x2="429.7" y2="265.01" stroke="#0a0a0a" stroke-width="1.0"/>
<text x="422.1" y="267.41" font-size="6.8" text-anchor="end" fill="#111" stroke="#111" stroke-width="0.12" textLength="20" lengthAdjust="spacingAndGlyphs" >2.0x10</text>
<text x="422.3" y="264.41" font-size="4.6" text-anchor="start" fill="#111" stroke="#111" stroke-width="0.08" >4</text>
<line x1="427.1" y1="249.53" x2="429.7" y2="249.53" stroke="#0a0a0a" stroke-width="1.0"/>
<text x="422.1" y="251.93" font-size="6.8" text-anchor="end" fill="#111" stroke="#111" stroke-width="0.12" textLength="20" lengthAdjust="spacingAndGlyphs" >4.0x10</text>
<text x="422.3" y="248.93" font-size="4.6" text-anchor="start" fill="#111" stroke="#111" stroke-width="0.08" >4</text>
<line x1="427.1" y1="234.04" x2="429.7" y2="234.04" stroke="#0a0a0a" stroke-width="1.0"/>
<text x="422.1" y="236.44" font-size="6.8" text-anchor="end" fill="#111" stroke="#111" stroke-width="0.12" textLength="20" lengthAdjust="spacingAndGlyphs" >6.0x10</text>
<text x="422.3" y="233.44" font-size="4.6" text-anchor="start" fill="#111" stroke="#111" stroke-width="0.08" >4</text>
<line x1="427.1" y1="218.56" x2="429.7" y2="218.56" stroke="#0a0a0a" stroke-width="1.0"/>
<text x="422.1" y="220.96" font-size="6.8" text-anchor="end" fill="#111" stroke="#111" stroke-width="0.12" textLength="20" lengthAdjust="spacingAndGlyphs" >8.0x10</text>
<text x="422.3" y="217.96" font-size="4.6" text-anchor="start" fill="#111" stroke="#111" stroke-width="0.08" >4</text>
<line x1="427.1" y1="203.07" x2="429.7" y2="203.07" stroke="#0a0a0a" stroke-width="1.0"/>
<text x="422.1" y="205.47" font-size="6.8" text-anchor="end" fill="#111" stroke="#111" stroke-width="0.12" textLength="20" lengthAdjust="spacingAndGlyphs" >1.0x10</text>
<text x="422.3" y="202.47" font-size="4.6" text-anchor="start" fill="#111" stroke="#111" stroke-width="0.08" >5</text>
<line x1="427.1" y1="187.59" x2="429.7" y2="187.59" stroke="#0a0a0a" stroke-width="1.0"/>
<text x="422.1" y="189.99" font-size="6.8" text-anchor="end" fill="#111" stroke="#111" stroke-width="0.12" textLength="20" lengthAdjust="spacingAndGlyphs" >1.2x10</text>
<text x="422.3" y="186.99" font-size="4.6" text-anchor="start" fill="#111" stroke="#111" stroke-width="0.08" >5</text>
<line x1="427.1" y1="172.1" x2="429.7" y2="172.1" stroke="#0a0a0a" stroke-width="1.0"/>
<text x="422.1" y="174.5" font-size="6.8" text-anchor="end" fill="#111" stroke="#111" stroke-width="0.12" textLength="20" lengthAdjust="spacingAndGlyphs" >1.4x10</text>
<text x="422.3" y="171.5" font-size="4.6" text-anchor="start" fill="#111" stroke="#111" stroke-width="0.08" >5</text>
<rect x="435.3" y="244.8" width="17.4" height="35.7" fill="url(#bg)" stroke="#102010" stroke-width="0.7"/>
<rect x="435.3" y="244.8" width="17.4" height="35.7" fill="url(#hatch)"/>
<line x1="444" y1="280.5" x2="444" y2="282.9" stroke="#0a0a0a" stroke-width="1.0"/>
<text x="444" y="291" font-size="7.0" text-anchor="middle" fill="#111" stroke="#111" stroke-width="0.12" textLength="13.2" lengthAdjust="spacingAndGlyphs" >Terp</text>
<rect x="464.15" y="197.5" width="17.4" height="83" fill="url(#bg)" stroke="#102010" stroke-width="0.7"/>
<rect x="464.15" y="197.5" width="17.4" height="83" fill="url(#hatch)"/>
<line x1="472.85" y1="280.5" x2="472.85" y2="282.9" stroke="#0a0a0a" stroke-width="1.0"/>
<text x="472.85" y="291" font-size="7.0" text-anchor="middle" fill="#111" stroke="#111" stroke-width="0.12" textLength="15.6" lengthAdjust="spacingAndGlyphs" >1.3%</text>
<rect x="493" y="189.6" width="17.4" height="90.9" fill="url(#bg)" stroke="#102010" stroke-width="0.7"/>
<rect x="493" y="189.6" width="17.4" height="90.9" fill="url(#hatch)"/>
<line x1="501.7" y1="280.5" x2="501.7" y2="282.9" stroke="#0a0a0a" stroke-width="1.0"/>
<text x="501.7" y="291" font-size="7.0" text-anchor="middle" fill="#111" stroke="#111" stroke-width="0.12" textLength="15.6" lengthAdjust="spacingAndGlyphs" >1.9%</text>
<rect x="521.85" y="179.7" width="17.4" height="100.8" fill="url(#bg)" stroke="#102010" stroke-width="0.7"/>
<rect x="521.85" y="179.7" width="17.4" height="100.8" fill="url(#hatch)"/>
<line x1="530.55" y1="280.5" x2="530.55" y2="282.9" stroke="#0a0a0a" stroke-width="1.0"/>
<text x="530.55" y="291" font-size="7.0" text-anchor="middle" fill="#111" stroke="#111" stroke-width="0.12" textLength="15.6" lengthAdjust="spacingAndGlyphs" >2.1%</text>
<rect x="550.7" y="220.3" width="17.4" height="60.2" fill="url(#bg)" stroke="#102010" stroke-width="0.7"/>
<rect x="550.7" y="220.3" width="17.4" height="60.2" fill="url(#hatch)"/>
<line x1="559.4" y1="280.5" x2="559.4" y2="282.9" stroke="#0a0a0a" stroke-width="1.0"/>
<text x="559.4" y="291" font-size="7.0" text-anchor="middle" fill="#111" stroke="#111" stroke-width="0.12" textLength="15.6" lengthAdjust="spacingAndGlyphs" >2.3%</text>
<rect x="429.7" y="164.8" width="144" height="115.7" fill="none" stroke="#0a0a0a" stroke-width="1.4"/>
<text x="475.9" y="299.6" font-size="8.1" text-anchor="start" fill="#111" stroke="#111" stroke-width="0.07" textLength="49.6" lengthAdjust="spacingAndGlyphs" >Content of FA</text>
<text x="0" y="0" font-size="6.3" text-anchor="middle" fill="#111" stroke="#111" stroke-width="0.07" letter-spacing="0.25" transform="translate(398.6,222) rotate(-90)">β (Jm<tspan font-size="4.0" dy="-2.2">3</tspan><tspan dy="2.2">C</tspan><tspan font-size="4.0" dy="-2.2">-2</tspan><tspan dy="2.2">Kg</tspan><tspan font-size="4.0" dy="-2.2">-1</tspan><tspan dy="2.2">K</tspan><tspan font-size="4.0" dy="-2.2">-1</tspan><tspan dy="2.2">)</tspan></text>
</svg></body></html>
